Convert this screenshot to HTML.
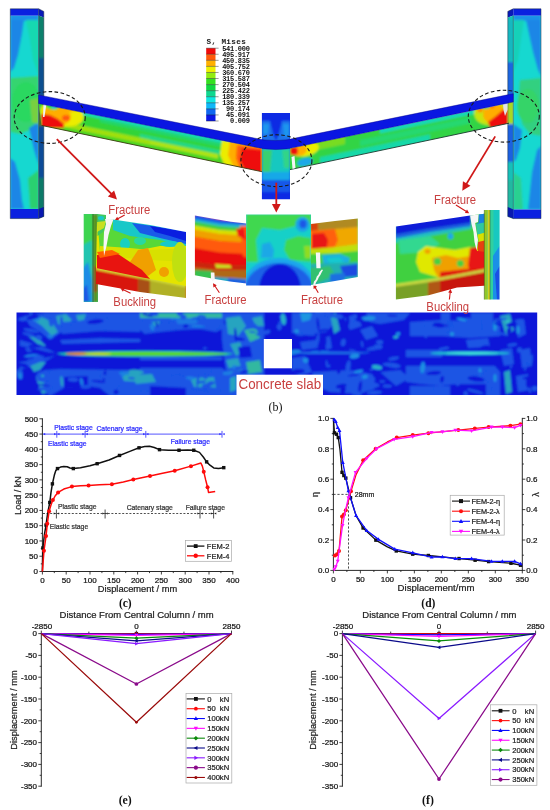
<!DOCTYPE html>
<html><head><meta charset="utf-8"><title>FEM results</title>
<style>html,body{margin:0;padding:0;background:#fff;width:550px;height:810px;overflow:hidden}svg{display:block}</style>
</head><body>
<svg width="550" height="810" viewBox="0 0 550 810"><defs><filter id="bl0_5" x="-20%" y="-20%" width="140%" height="140%"><feGaussianBlur stdDeviation="0.5"/></filter><filter id="bl0_8" x="-20%" y="-20%" width="140%" height="140%"><feGaussianBlur stdDeviation="0.8"/></filter><filter id="bl1_0" x="-20%" y="-20%" width="140%" height="140%"><feGaussianBlur stdDeviation="1.0"/></filter><filter id="bl1_5" x="-20%" y="-20%" width="140%" height="140%"><feGaussianBlur stdDeviation="1.5"/></filter><filter id="bl2_0" x="-20%" y="-20%" width="140%" height="140%"><feGaussianBlur stdDeviation="2.0"/></filter><filter id="bl3_0" x="-20%" y="-20%" width="140%" height="140%"><feGaussianBlur stdDeviation="3.0"/></filter><clipPath id="cp1"><polygon points="10.3,15.4 38.6,15.4 38.6,209 10.3,209"/></clipPath><clipPath id="cp2"><polygon points="38.6,15.6 43.8,17.5 43.8,216.5 38.6,218.6"/></clipPath><clipPath id="cp3"><polygon points="513.3,15.4 541,15.4 541,209.5 513.3,209.5"/></clipPath><clipPath id="cp4"><polygon points="507.8,17.5 513.3,15.6 513.3,218.6 507.8,216.5"/></clipPath><clipPath id="cp5"><polygon points="261.9,113 290,113 290,199.3 261.9,199.3"/></clipPath><clipPath id="cp6"><polygon points="38.6,103.52 262,148.2 262,171.71 41.5,125.4"/></clipPath><clipPath id="cp7"><polygon points="290,148.15 507.3,103.6 509,123.19 290,169.62"/></clipPath><clipPath id="cp8"><polygon points="83.7,214 98,214 98,302 83.7,302"/></clipPath><clipPath id="cp9"><polygon points="97,222 113,219.5 150,225 186,232 186,288 140,279 96,270"/></clipPath><clipPath id="cp10"><polygon points="97.5,214 106,215 106,224 103,232 97.5,236"/></clipPath><clipPath id="cp11"><polygon points="96,268 140,277 186,286 186,298 140,292 96,284"/></clipPath><clipPath id="cp12"><polygon points="194.9,215.6 212,218.5 231,221.8 246.5,223.5 246.5,283.5 230,281.5 212,278.5 194.9,275.3"/></clipPath><clipPath id="cp13"><polygon points="246.1,214.5 311,214.5 311,285.5 246.1,285.5"/></clipPath><clipPath id="cp14"><polygon points="310.9,224.1 335,221 357.8,218.6 357.8,277 335,281 311,285"/></clipPath><clipPath id="cp15"><polygon points="395.9,226.5 430,221.5 470.1,215.5 486.5,213.4 487.6,285.4 457,287.6 428.6,295.2 395.9,299.5"/></clipPath><clipPath id="cp16"><polygon points="478.8,214.5 486.5,213.4 486.5,252 477,251 478.5,240 477,232 476,224 478.6,222.5"/></clipPath><clipPath id="cp17"><polygon points="484.3,210 499.6,210 499.6,299.5 484.3,299.5"/></clipPath><clipPath id="cp18"><polygon points="16.5,312.6 537.2,312.6 537.2,395 16.5,395"/></clipPath></defs>
<g clip-path="url(#cp1)"><g filter="url(#bl1_0)"><rect x="6.3" y="11.4" width="36.3" height="201.6" fill="#14d8d0"/><polygon points="10.3,15 38.6,15 38.6,21 10.3,21" fill="#1a90e8" /><polygon points="10.3,20 24,20 22,34 18,55 14,68 10.3,72" fill="#1a86e6" /><polygon points="26,20 38.6,20 38.6,75 33,60 30,40" fill="#18d8b0" /><polygon points="10.3,78 38.6,76 38.6,128 30,130 20,134 10.3,132" fill="#34d470" /><ellipse cx="26" cy="102" rx="14" ry="20" fill="#2cd860" /><polygon points="29,128 38.6,122 38.6,165 34,150" fill="#1a86e6" /><polygon points="30,100 38.6,98 38.6,124 32,122" fill="#78d040" /><polygon points="10.3,158 15,162 20,180 22,200 24,209 10.3,209" fill="#1a86e6" /><polygon points="28,178 38.6,170 38.6,209 30,209" fill="#2cd070" /></g></g>
<polygon points="10.3,8.8 38.6,8.8 38.6,15.6 10.3,15.6" fill="#0a20e0" />
<polygon points="38.6,8.8 43.8,11.4 43.8,17.5 38.6,15.6" fill="#0818b8" />
<g clip-path="url(#cp2)"><g filter="url(#bl1_0)"><rect x="34.6" y="11.6" width="13.2" height="211" fill="#0c806c"/><polygon points="38,58 45,58 45,96 38,96" fill="#0a5090" /><polygon points="38,96 45,96 45,126 38,126" fill="#4a7020" /><polygon points="38,126 45,126 45,178 38,178" fill="#0a4c98" /><polygon points="38,178 45,178 45,212 38,212" fill="#0c7a68" /></g></g>
<polygon points="10.3,209 38.6,209 38.6,218.6 10.3,218.6" fill="#0a20e0" />
<polygon points="38.6,209 43.8,207 43.8,216.5 38.6,218.6" fill="#0818b0" />
<g clip-path="url(#cp3)"><g filter="url(#bl1_0)"><rect x="509.3" y="11.4" width="35.7" height="202.1" fill="#14d8d0"/><polygon points="513.3,15 541,15 541,21 513.3,21" fill="#1a90e8" /><polygon points="526,20 541,20 541,76 538,70 533,52 529,34" fill="#1a86e6" /><polygon points="513.3,20 524,20 521,40 518,60 513.3,72" fill="#18d0b8" /><polygon points="520,80 541,78 541,136 530,134 522,124 518,100" fill="#30d080" /><ellipse cx="528" cy="106" rx="11" ry="17" fill="#34d468" /><polygon points="513.3,124 522,130 520,148 516,160 513.3,162" fill="#1a86e6" /><polygon points="541,146 537,150 532,172 528,209.5 541,209.5" fill="#1a86e6" /><polygon points="513.3,172 521,178 523,209.5 513.3,209.5" fill="#2cd090" /></g></g>
<polygon points="513.3,8.8 541,8.8 541,15.6 513.3,15.6" fill="#0a20e0" />
<polygon points="507.8,11.4 513.3,8.8 513.3,15.6 507.8,17.5" fill="#0818b8" />
<g clip-path="url(#cp4)"><g filter="url(#bl1_0)"><rect x="503.8" y="11.6" width="13.5" height="211" fill="#16c0b8"/><polygon points="506,20 514,20 514,60 506,60" fill="#18b8c0" /><polygon points="506,62 514,62 514,100 506,100" fill="#1a66e0" /><polygon points="506,100 514,100 514,124 506,124" fill="#a8d820" /><polygon points="506,124 514,124 514,162 506,162" fill="#1a60e0" /><polygon points="506,180 514,180 514,212 506,212" fill="#20b8a0" /></g></g>
<line x1="513.3" y1="15.6" x2="513.3" y2="218.6" stroke="#104040" stroke-width="0.5"/>
<polygon points="513.3,209.5 541,209.5 541,218.6 513.3,218.6" fill="#0a20e0" />
<polygon points="507.8,207 513.3,209.5 513.3,218.6 507.8,216.5" fill="#0818b0" />
<polygon points="10.3,8.8 38.6,8.8 43.8,11.4 43.8,216.5 38.6,218.6 10.3,218.6" fill="none" stroke="#1a2a40" stroke-width="0.5"/>
<line x1="38.6" y1="8.8" x2="38.6" y2="218.6" stroke="#1a2a40" stroke-width="0.45"/>
<polygon points="507.8,11.4 513.3,8.8 541,8.8 541,218.6 513.3,218.6 507.8,216.5" fill="none" stroke="#1a2a40" stroke-width="0.5"/>
<g clip-path="url(#cp5)"><g filter="url(#bl1_0)"><rect x="257.9" y="109" width="36.1" height="94.3" fill="#0a2ae4"/><polygon points="262,121 290,121 290,141 262,141" fill="#1a72ea" /><polygon points="270,121 282,121 279,134 276,141 273,134" fill="#0a2ae4" /><polygon points="263,124 269,124 268,134 263,134" fill="#1a96ee" /><polygon points="283,124 289,124 289,136 284,136" fill="#1a96ee" /><polygon points="262,148 290,148 290,174 262,174" fill="#18c8c0" /><polygon points="262,150 272,150 270,172 262,172" fill="#38d070" /><polygon points="282,150 290,150 290,168 284,168" fill="#30d488" /><polygon points="262,172 290,172 290,180 262,180" fill="#18a8e8" /><polygon points="262,180 290,180 290,192 262,192" fill="#1258e8" /></g></g>
<g clip-path="url(#cp6)"><g filter="url(#bl1_0)"><rect x="34.6" y="99.52" width="231.4" height="76.19" fill="#30d438"/><polygon points="60,105.65 262,145.85 262,151.26 60,110.59" fill="#18d8b8" /><polygon points="100,118.65 262,151.26 262,155.25 100,122.37" fill="#22d66a" /><polygon points="140,133.83 262,158.78 262,162.77 140,137.62" fill="#28d888" /><polygon points="45,118.03 150,139.68 150,145.05 45,123.15" fill="#a0e010" /><polygon points="150,140.13 218,154.16 218,158.77 150,144.6" fill="#b0e418" /><polygon points="45,123.15 262,168.41 262,174.06 45,128.27" fill="#4cd424" /><ellipse cx="62" cy="114" rx="22" ry="12" fill="#ecec00" transform="rotate(12 62 114)" /><ellipse cx="57" cy="115" rx="14" ry="10" fill="#ffad00" transform="rotate(12 57 115)" /><ellipse cx="48" cy="121" rx="7" ry="5" fill="#ee1010" transform="rotate(12 48 121)" /><polygon points="41,114 50,115 58,119 64,124 64,128 41,128" fill="#ee1010" /><ellipse cx="66" cy="118" rx="4" ry="3" fill="#ff5a08" /><ellipse cx="70" cy="108" rx="6" ry="3.5" fill="#ffad00" transform="rotate(12 70 108)" /><ellipse cx="52" cy="106" rx="7" ry="3.5" fill="#30e040" transform="rotate(12 52 106)" /><ellipse cx="54" cy="107" rx="2.5" ry="2" fill="#18c8d8" /><polygon points="222,140 262,146 262,175 226,168 220,155" fill="#ecec00" /><polygon points="230,141 262,146 262,175 234,168 228,155" fill="#ffad00" /><polygon points="237,145 262,148 262,175 240,169 236,158" fill="#ff5a08" /><polygon points="242,148 262,150 262,175 245,170 240,160" fill="#ee1010" /></g></g>
<polygon points="43.5,104 46.5,103.5 45.5,110 44.5,117 43,117" fill="#f2f2f2" />
<line x1="41.5" y1="125.4" x2="262" y2="171.71" stroke="#3a3a10" stroke-width="0.9"/>
<g clip-path="url(#cp7)"><g filter="url(#bl1_0)"><rect x="286" y="99.6" width="227" height="74.02" fill="#30d444"/><polygon points="380,127.62 480,107.19 480,112.83 380,133.45" fill="#18d8b8" /><polygon points="290,146 345,134.77 345,144.25 290,155.66" fill="#78dc20" /><polygon points="320,157.31 430,134.2 430,141.99 320,165.39" fill="#18d8a8" /><polygon points="360,140.09 470,117.31 470,123.38 360,146.39" fill="#26d870" /><ellipse cx="306" cy="149" rx="13" ry="7" fill="#ecec00" transform="rotate(-12 306 149)" /><ellipse cx="299" cy="150" rx="8" ry="6" fill="#ffad00" transform="rotate(-12 299 150)" /><ellipse cx="294" cy="151" rx="4" ry="4" fill="#ee1010" /><ellipse cx="305" cy="162" rx="8" ry="4" fill="#1ca8e8" transform="rotate(-12 305 162)" /><ellipse cx="490" cy="112" rx="16" ry="13" fill="#c8e410" transform="rotate(-12 490 112)" /><ellipse cx="494" cy="114" rx="11" ry="10" fill="#ffad00" transform="rotate(-12 494 114)" /><polygon points="488,122 496,116 503,110 508,108 508,126 490,128" fill="#ee1010" /><ellipse cx="486" cy="108" rx="3" ry="2.5" fill="#ffad00" /><ellipse cx="492" cy="106" rx="2.5" ry="2" fill="#ff5a08" /><ellipse cx="486" cy="106" rx="4" ry="3" fill="#30d060" /><ellipse cx="480" cy="110" rx="3" ry="2.5" fill="#ff9000" /></g></g>
<polygon points="503,104 507.5,103 507.5,110 505,116 503.5,110" fill="#e4e4e4" />
<line x1="290" y1="169.62" x2="509" y2="123.19" stroke="#1a3a30" stroke-width="0.9"/>
<polygon points="291.5,157 294.5,156 295.5,168 292.5,169" fill="#f4f4f4" />
<path d="M38.6,94.92 L252,137.6 Q276,143.9 300,137.1 L513.3,93.67 L513.3,101.97 L300,146.3 Q276,152.8 252,146.4 L38.6,103.62 Z" fill="#0a16e2" stroke="#0a0a80" stroke-width="0.4"/>
<rect x="206.2" y="48.2" width="9.3" height="6.12" fill="#f00a0a"/>
<rect x="206.2" y="54.27" width="9.3" height="6.12" fill="#ff5a0a"/>
<rect x="206.2" y="60.33" width="9.3" height="6.12" fill="#ffb000"/>
<rect x="206.2" y="66.4" width="9.3" height="6.12" fill="#eef000"/>
<rect x="206.2" y="72.47" width="9.3" height="6.12" fill="#92ec10"/>
<rect x="206.2" y="78.53" width="9.3" height="6.12" fill="#34e020"/>
<rect x="206.2" y="84.6" width="9.3" height="6.12" fill="#10d840"/>
<rect x="206.2" y="90.67" width="9.3" height="6.12" fill="#10d890"/>
<rect x="206.2" y="96.73" width="9.3" height="6.12" fill="#10e8e0"/>
<rect x="206.2" y="102.8" width="9.3" height="6.12" fill="#10b8f8"/>
<rect x="206.2" y="108.87" width="9.3" height="6.12" fill="#1068f0"/>
<rect x="206.2" y="114.93" width="9.3" height="6.12" fill="#0a18e8"/>
<line x1="206.2" y1="48.2" x2="218.6" y2="48.2" stroke="#222" stroke-width="0.45"/>
<line x1="206.2" y1="54.27" x2="218.6" y2="54.27" stroke="#222" stroke-width="0.45"/>
<line x1="206.2" y1="60.33" x2="218.6" y2="60.33" stroke="#222" stroke-width="0.45"/>
<line x1="206.2" y1="66.4" x2="218.6" y2="66.4" stroke="#222" stroke-width="0.45"/>
<line x1="206.2" y1="72.47" x2="218.6" y2="72.47" stroke="#222" stroke-width="0.45"/>
<line x1="206.2" y1="78.53" x2="218.6" y2="78.53" stroke="#222" stroke-width="0.45"/>
<line x1="206.2" y1="84.6" x2="218.6" y2="84.6" stroke="#222" stroke-width="0.45"/>
<line x1="206.2" y1="90.67" x2="218.6" y2="90.67" stroke="#222" stroke-width="0.45"/>
<line x1="206.2" y1="96.73" x2="218.6" y2="96.73" stroke="#222" stroke-width="0.45"/>
<line x1="206.2" y1="102.8" x2="218.6" y2="102.8" stroke="#222" stroke-width="0.45"/>
<line x1="206.2" y1="108.87" x2="218.6" y2="108.87" stroke="#222" stroke-width="0.45"/>
<line x1="206.2" y1="114.93" x2="218.6" y2="114.93" stroke="#222" stroke-width="0.45"/>
<line x1="206.2" y1="121" x2="218.6" y2="121" stroke="#222" stroke-width="0.45"/>
<text x="249.6" y="50.6" font-family="'Liberation Mono', 'DejaVu Sans Mono', monospace" font-size="7.0" fill="#111" text-anchor="end" font-weight="bold" letter-spacing="-0.28">541.000</text>
<text x="249.6" y="56.67" font-family="'Liberation Mono', 'DejaVu Sans Mono', monospace" font-size="7.0" fill="#111" text-anchor="end" font-weight="bold" letter-spacing="-0.28">495.917</text>
<text x="249.6" y="62.73" font-family="'Liberation Mono', 'DejaVu Sans Mono', monospace" font-size="7.0" fill="#111" text-anchor="end" font-weight="bold" letter-spacing="-0.28">450.835</text>
<text x="249.6" y="68.8" font-family="'Liberation Mono', 'DejaVu Sans Mono', monospace" font-size="7.0" fill="#111" text-anchor="end" font-weight="bold" letter-spacing="-0.28">405.752</text>
<text x="249.6" y="74.87" font-family="'Liberation Mono', 'DejaVu Sans Mono', monospace" font-size="7.0" fill="#111" text-anchor="end" font-weight="bold" letter-spacing="-0.28">360.670</text>
<text x="249.6" y="80.93" font-family="'Liberation Mono', 'DejaVu Sans Mono', monospace" font-size="7.0" fill="#111" text-anchor="end" font-weight="bold" letter-spacing="-0.28">315.587</text>
<text x="249.6" y="87" font-family="'Liberation Mono', 'DejaVu Sans Mono', monospace" font-size="7.0" fill="#111" text-anchor="end" font-weight="bold" letter-spacing="-0.28">270.504</text>
<text x="249.6" y="93.07" font-family="'Liberation Mono', 'DejaVu Sans Mono', monospace" font-size="7.0" fill="#111" text-anchor="end" font-weight="bold" letter-spacing="-0.28">225.422</text>
<text x="249.6" y="99.13" font-family="'Liberation Mono', 'DejaVu Sans Mono', monospace" font-size="7.0" fill="#111" text-anchor="end" font-weight="bold" letter-spacing="-0.28">180.339</text>
<text x="249.6" y="105.2" font-family="'Liberation Mono', 'DejaVu Sans Mono', monospace" font-size="7.0" fill="#111" text-anchor="end" font-weight="bold" letter-spacing="-0.28">135.257</text>
<text x="249.6" y="111.27" font-family="'Liberation Mono', 'DejaVu Sans Mono', monospace" font-size="7.0" fill="#111" text-anchor="end" font-weight="bold" letter-spacing="-0.28">90.174</text>
<text x="249.6" y="117.33" font-family="'Liberation Mono', 'DejaVu Sans Mono', monospace" font-size="7.0" fill="#111" text-anchor="end" font-weight="bold" letter-spacing="-0.28">45.091</text>
<text x="249.6" y="123.4" font-family="'Liberation Mono', 'DejaVu Sans Mono', monospace" font-size="7.0" fill="#111" text-anchor="end" font-weight="bold" letter-spacing="-0.28">0.009</text>
<text x="206.6" y="43.6" font-family="'Liberation Mono', 'DejaVu Sans Mono', monospace" font-size="7.7" fill="#1a1a1a" text-anchor="start" font-weight="bold" letter-spacing="0.32">S, Mises</text>
<ellipse cx="49.7" cy="117.5" rx="35.5" ry="25.9" fill="none" stroke="#1a1a1a" stroke-width="1.1" stroke-dasharray="3.6,2.4"/>
<ellipse cx="276.4" cy="160.7" rx="35.5" ry="25.9" fill="none" stroke="#1a1a1a" stroke-width="1.1" stroke-dasharray="3.6,2.4"/>
<ellipse cx="503.8" cy="116.2" rx="35.5" ry="25.9" fill="none" stroke="#1a1a1a" stroke-width="1.1" stroke-dasharray="3.6,2.4"/>
<line x1="56.8" y1="139.2" x2="111.7" y2="194.19" stroke="#d01818" stroke-width="1.8"/><polygon points="117,199.5 107.88,196.59 114.11,190.38" fill="#d01818"/>
<line x1="276.3" y1="182.7" x2="276.3" y2="205" stroke="#d01818" stroke-width="1.8"/><polygon points="276.3,212.5 271.9,204 280.7,204" fill="#d01818"/>
<line x1="495.2" y1="136.4" x2="466.18" y2="184.38" stroke="#d01818" stroke-width="1.8"/><polygon points="462.3,190.8 462.93,181.25 470.46,185.8" fill="#d01818"/>
<line x1="124.7" y1="215" x2="117.27" y2="218.98" stroke="#d01818" stroke-width="1.1"/><polygon points="114.8,220.3 117.21,216.74 119.09,220.27" fill="#d01818"/>
<line x1="130.6" y1="293.2" x2="122.91" y2="289.43" stroke="#d01818" stroke-width="1.1"/><polygon points="120.4,288.2 124.69,288.08 122.93,291.67" fill="#d01818"/>
<line x1="219.4" y1="292.7" x2="214.56" y2="285.52" stroke="#d01818" stroke-width="1.1"/><polygon points="213,283.2 216.78,285.23 213.46,287.47" fill="#d01818"/>
<line x1="318.3" y1="292.7" x2="314.85" y2="287" stroke="#d01818" stroke-width="1.1"/><polygon points="313.4,284.6 317.08,286.82 313.66,288.89" fill="#d01818"/>
<line x1="455.9" y1="205" x2="466.82" y2="211.73" stroke="#d01818" stroke-width="1.1"/><polygon points="469.2,213.2 464.92,212.91 467.01,209.5" fill="#d01818"/>
<line x1="449.4" y1="299.5" x2="450.28" y2="291.78" stroke="#d01818" stroke-width="1.1"/><polygon points="450.6,289 452.16,293 448.18,292.55" fill="#d01818"/>
<g clip-path="url(#cp8)"><g filter="url(#bl0_8)"><rect x="79.7" y="210" width="22.3" height="96" fill="#30cc70"/><polygon points="83,214 93,214 93,302 83,302" fill="#3cd450" /><polygon points="83,245 92,240 93,302 83,302" fill="#20c4b0" /><polygon points="83,268 88,262 92,280 92,302 83,302" fill="#1a8ce6" /><polygon points="83,288 87,285 89,302 83,302" fill="#1a56e6" /><polygon points="93,214 98,214 98,302 93,302" fill="#5a9222" /><polygon points="93,266 98,266 98,292 93,292" fill="#8a5a18" /></g></g>
<line x1="93" y1="214" x2="93" y2="302" stroke="#2a4010" stroke-width="0.6"/>
<g clip-path="url(#cp9)"><g filter="url(#bl0_9)"><rect x="92" y="215.5" width="98" height="76.5" fill="#e4e400"/><polygon points="97,215 186,226 186,246 160,246 140,250 120,252 100,252" fill="#58d838" /><polygon points="113,219 186,230 186,246 160,240 130,236 113,230" fill="#18c8c8" /><polygon points="132,223 186,231 186,244 160,238 140,233" fill="#1a5ae8" /><polygon points="150,226 186,232 186,241 170,236 155,232" fill="#0a1ee0" /><ellipse cx="125" cy="244" rx="5" ry="6" fill="#18d0c0" /><ellipse cx="140" cy="241" rx="6" ry="4" fill="#28d8a0" /><ellipse cx="170" cy="244" rx="10" ry="3" fill="#18c8c8" /><polygon points="100,246 130,248 150,250 186,248 186,262 150,260 100,256" fill="#d8e000" /><polygon points="138,250 148,248 152,258 156,270 148,276 136,272 130,262" fill="#f0a000" /><ellipse cx="164" cy="272" rx="5" ry="5" fill="#f0a000" /><polygon points="97,255 118,254 130,262 142,270 150,279 120,276 97,271" fill="#e81410" /><polygon points="97,252 112,250 120,254 100,258" fill="#ff6000" /><ellipse cx="180" cy="262" rx="8" ry="20" fill="#c0e010" /></g></g>
<g clip-path="url(#cp10)"><g filter="url(#bl0_6)"><rect x="93.5" y="210" width="16.5" height="30" fill="#40c860"/><polygon points="97,222 106,221 104,228 97,232" fill="#c8e020" /><ellipse cx="101" cy="218" rx="3" ry="2" fill="#18c8c8" /></g></g>
<polygon points="105,219 113.5,219.2 111,226 108.5,235 106.5,246 104,256 103.5,246 104,232 106,224" fill="#f6f6f6" />
<g clip-path="url(#cp11)"><g filter="url(#bl0_8)"><rect x="92" y="264" width="98" height="38" fill="#d81810"/><polygon points="138,270 150,270 152,302 138,302" fill="#a85018" /><polygon points="150,270 186,280 186,302 150,302" fill="#b0b028" /><polygon points="96,266 186,284 186,287.5 96,270" fill="#d0d830" /></g></g>
<g clip-path="url(#cp12)"><g filter="url(#bl0_8)"><rect x="190.9" y="211.6" width="59.6" height="75.9" fill="#e81010"/><polygon points="194,214 220,219.5 247,222 247,227 220,225.5 194,221" fill="#1a5ae6" /><polygon points="194,219 220,223.5 247,225 247,228.5 220,226.75 194,222" fill="#20b8d0" /><polygon points="194,221.5 220,226.25 247,228 247,232 220,230.5 194,226" fill="#40d040" /><polygon points="194,225.5 220,230 247,231.5 247,236 220,234.5 194,230" fill="#d8e000" /><polygon points="194,229.5 220,234 247,235.5 247,243 220,241.5 194,237" fill="#f0a000" /><polygon points="194,236.5 220,241 247,242.5 247,254 220,252.5 194,248" fill="#ff5a08" /><polygon points="240,226 247,226 247,258 243,256" fill="#ff5a08" /><polygon points="236,229 244,228 246,240 238,236" fill="#ee1818" /><polygon points="194,262 220,265 247,265 247,270 220,269.5 194,266" fill="#c82810" /><polygon points="215,264 230,265 232,268 216,268" fill="#c8e020" /><polygon points="194,267 220,270 247,270 247,290 220,288.5 194,284" fill="#b06818" /><polygon points="194,270 212,271 212,290 194,290" fill="#38c050" /><polygon points="214,277 247,279 247,290 214,290" fill="#20a8c8" /><polygon points="228,278 247,280 247,290 228,290" fill="#1a60e0" /></g></g>
<polygon points="210.8,272.5 214.4,272.5 214.8,279.5 212.5,281 211,279" fill="#f6f6f6" />
<g clip-path="url(#cp13)"><g filter="url(#bl0_8)"><rect x="242.1" y="210.5" width="72.9" height="79" fill="#18d0c8"/><polygon points="246,214 311,214 311,224 296,226 280,230 262,228 256,240 258,262 246,262" fill="#40d850" /><polygon points="286,240 298,236 311,238 311,262 290,260 284,250" fill="#40d850" /><polygon points="304,246 311,246 311,258 305,258" fill="#90dc20" /><ellipse cx="302.5" cy="224.5" rx="7" ry="7.5" fill="#1aa0e8" /><ellipse cx="303" cy="224" rx="3.6" ry="4.2" fill="#1a58e6" /><polygon points="262,244 270,242 274,250 273,258 261,258" fill="#1aa8e6" /><ellipse cx="279" cy="291" rx="38" ry="33" fill="#1aa6ec" /><ellipse cx="279" cy="292" rx="35" ry="29" fill="#1a60e6" /><ellipse cx="280" cy="290" rx="21" ry="26" fill="#0a14d8" /></g></g>
<g clip-path="url(#cp14)"><g filter="url(#bl0_8)"><rect x="306.9" y="214.6" width="54.9" height="74.4" fill="#40d040"/><polygon points="310,222 358,217 358,229 310,233" fill="#b08a20" /><polygon points="310,222 318,222 318,233 310,233" fill="#d84010" /><polygon points="310,231 358,227 358,246 336,249 310,251" fill="#f0a800" /><polygon points="311,231 335,229 338,240 334,249 311,251" fill="#ff6008" /><polygon points="312,234 324,233 328,240 326,252 312,253" fill="#e81414" /><polygon points="310,249 336,247 358,244 358,251 336,253 310,254" fill="#c0e010" /><polygon points="322,255 340,254 350,258 348,266 324,267" fill="#1ab0e0" /><polygon points="326,258 340,257 344,263 330,264" fill="#18c8d0" /><polygon points="310,264 358,262 358,290 310,290" fill="#20b0b0" /><polygon points="310,268 330,266 335,275 320,282 310,285" fill="#30c070" /><polygon points="340,266 358,264 358,276 344,277" fill="#1a48e0" /><polygon points="330,274 345,273 345,282 330,283" fill="#1a70e0" /></g></g>
<polygon points="315.8,252.4 320.2,252.4 320.6,268.2 316.4,268.2" fill="#f6f6f6" />
<polygon points="321.8,269.4 319.5,272 318.5,274.5 316.8,276.5 315.8,279.5 314,281.5 313,285.7 314.8,285.7 316,282.5 317.6,280 318.8,277.3 320.4,275 321.6,272.4 323,270" fill="#f6f6f6" />
<g clip-path="url(#cp15)"><g filter="url(#bl0_8)"><rect x="391.9" y="209.4" width="99.7" height="94.1" fill="#40d040"/><polygon points="395,222 430,217 471,211 471,223 430,229 395,235" fill="#0a1ed8" /><polygon points="395,234.5 430,228.5 471,222.5 471,226.5 430,232.5 395,239" fill="#1a60e0" /><polygon points="395,238.5 430,232 471,226 471,229 430,236 395,243" fill="#20c0c0" /><polygon points="398,240 430,236 440,244 425,252 400,254" fill="#30d890" /><ellipse cx="450.5" cy="236.3" rx="2.8" ry="3.2" fill="#1aa8e8" /><polygon points="418,252 426,246 440,248 455,250 470,247 478,252 477,270 460,277 440,278 420,272 416,262" fill="#e0e800" /><polygon points="432,258 446,255 458,258 470,256 479,262 479,281 440,281 434,270" fill="#f0a000" /><ellipse cx="437.4" cy="261.4" rx="3.8" ry="3.6" fill="#48d040" /><ellipse cx="460.3" cy="263.5" rx="3.6" ry="3.4" fill="#48d040" /><ellipse cx="427.5" cy="251.5" rx="3" ry="2.4" fill="#f0a000" /><polygon points="470,248 486,246 486,280 474,280 468,266" fill="#e81414" /><polygon points="440,272 476,268 486,270 486,281 440,281" fill="#e01810" /><polygon points="395,285.4 440,279 487.6,270 487.6,300 395,300" fill="#78a028" /><polygon points="428,280.5 487.6,270 487.6,300 428,300" fill="#b05818" /><polygon points="440,278.5 487.6,270 487.6,300 440,300" fill="#c81410" /><polygon points="395,284 440,277.5 487.6,268.5 487.6,271.5 440,280.5 395,287" fill="#c8d840" /></g></g>
<polygon points="470.1,215.5 478.8,214.5 478,222 475.2,223 476.6,232 478,240 476.6,250.5 474.5,242 473.5,232 471.5,224" fill="#f6f6f6" />
<g clip-path="url(#cp16)"><g filter="url(#bl0_6)"><rect x="472" y="209.4" width="18.5" height="46.6" fill="#30c8a0"/><polygon points="476,213 487,212 487,222 476,224" fill="#1a80e0" /><polygon points="476,235 487,232 487,252 476,252" fill="#d8e000" /><polygon points="478,242 487,240 487,252 478,252" fill="#e84010" /></g></g>
<g clip-path="url(#cp17)"><g filter="url(#bl0_6)"><rect x="480.3" y="206" width="23.3" height="97.5" fill="#18c8c0"/><polygon points="484,210 487.5,210 487.5,300 484,300" fill="#90c828" /><polygon points="487.5,210 490,210 490,300 487.5,300" fill="#d0d020" /><polygon points="490,210 493.5,210 493.5,300 490,300" fill="#30d0a0" /><polygon points="493,256 499.6,246 499.6,300 493,300" fill="#1a90e6" /><polygon points="495,274 499.6,266 499.6,300 497,300" fill="#1a50e4" /></g></g>
<line x1="490" y1="210" x2="490" y2="299.5" stroke="#305020" stroke-width="0.5"/>
<line x1="484.3" y1="210" x2="484.3" y2="299.5" stroke="#305020" stroke-width="0.5"/>
<g clip-path="url(#cp18)"><g filter="url(#bl1_0)"><rect x="12.5" y="308.6" width="528.7" height="90.4" fill="#0a14d8"/><polygon points="24,316 45,313 80,313 140,313 140,322 100,324 76,326 60,333 50,340 40,332 30,326" fill="#1a54e4" /><polygon points="30,318 40,316 52,322 58,332 52,336 42,326" fill="#28a4c0" /><polygon points="56,316 66,314 72,320 64,326 58,324" fill="#28a4c0" /><polygon points="76,315 86,314 84,320 78,321" fill="#28a4c0" /><polygon points="60,322 140,320 140,332 100,331 62,334" fill="#1a54e4" /><polygon points="60,340 100,338 140,339 140,342 100,343 62,344" fill="#1a54e4" /><polygon points="20,340 34,344 50,350 56,353 48,352 32,348 20,346" fill="#1a54e4" /><polygon points="20,362 34,360 50,357 56,355 48,360 32,366 20,370" fill="#1a54e4" /><polygon points="28,336 38,338 46,346 40,346" fill="#28a4c0" /><polygon points="30,366 40,362 46,362 40,370 34,372" fill="#28a4c0" /><polygon points="36,378 44,372 52,376 50,392 42,394" fill="#28a4c0" /><polygon points="44,370 60,369 140,370 140,396 110,396 100,388 88,386 64,388 50,396 44,390" fill="#1a54e4" /><polygon points="120,372 140,371 140,382 124,381" fill="#28a4c0" /><polygon points="64,377 88,376 88,386 64,388" fill="#0a14d8" /><polygon points="140,313 236,313 236,318 140,319" fill="#30b8a0" /><polygon points="140,318 222,318 228,326 216,332 200,329 180,330 160,332 145,334 140,330" fill="#1a54e4" /><polygon points="170,318 200,318 196,324 176,324" fill="#1a78e2" /><polygon points="140,357 222,357 222,360 140,360" fill="#1a54e4" /><polygon points="150,322 160,321 158,326 152,326" fill="#28a4c0" /><polygon points="150,338 160,333 168,339 176,332 186,338 196,333 206,338 212,334 218,342 218,349 150,348" fill="#0a14d8" /><polygon points="140,368 222,368 230,374 236,396 140,396" fill="#1a54e4" /><polygon points="132,375 152,374 156,382 136,384" fill="#28a4c0" /><polygon points="190,378 214,377 216,388 194,387" fill="#28a4c0" /><polygon points="150,386 186,388 186,396 150,396" fill="#0a14d8" /><polygon points="222,313 264,313 264,396 230,396 226,372 222,340" fill="#1a54e4" /><polygon points="226,318 240,316 246,326 238,336 228,334" fill="#28a4c0" /><polygon points="244,330 256,328 260,338 250,342" fill="#30b8a0" /><polygon points="230,344 240,342 244,352 236,356" fill="#28a4c0" /><polygon points="238,347 250,346 252,357 240,358" fill="#0a14d8" /><polygon points="226,360 238,358 242,370 230,372" fill="#28a4c0" /><polygon points="246,362 260,360 262,372 248,374" fill="#30b8a0" /><polygon points="230,378 236,376 236,390 230,392" fill="#28a4c0" /><polygon points="252,318 262,316 264,326 256,326" fill="#28a4c0" /><polygon points="292,313 330,313 336,322 326,332 300,336 292,334" fill="#1a54e4" /><polygon points="300,313 312,313 310,320 302,322" fill="#1a96e0" /><polygon points="330,314 336,313 340,330 334,334" fill="#28a4c0" /><polygon points="344,318 356,314 362,326 350,330" fill="#1a54e4" /><polygon points="366,313 410,313 404,320 380,324 370,322" fill="#1a54e4" /><polygon points="292,358 305,356 312,372 300,376 292,372" fill="#1a54e4" /><polygon points="312,372 350,370 372,374 380,386 360,394 330,392 316,386" fill="#1a54e4" /><polygon points="380,372 400,370 410,378 396,386" fill="#1a54e4" /><polygon points="296,382 310,380 312,396 296,396" fill="#1a54e4" /><polygon points="324,338 330,336 332,348 326,350" fill="#1a54e4" /><polygon points="360,330 372,326 378,336 366,340" fill="#1a54e4" /><polygon points="300,342 316,340 318,348 302,350" fill="#1a54e4" /><ellipse cx="320" cy="352" rx="10" ry="1.5" fill="#1a7ae4" /><polygon points="410,322 440,320 470,321 500,322 500,336 470,338 440,336 410,336" fill="#1a54e4" /><polygon points="441,313 450,313 450,322 441,322" fill="#1a54e4" /><polygon points="471,313 493,313 493,322 471,322" fill="#1a54e4" /><polygon points="466,340 488,338 490,347 468,348" fill="#1a54e4" /><polygon points="406,350 442,350 442,357 406,357" fill="#1a54e4" /><polygon points="406,366 450,366 495,366 500,372 500,386 483,384 457,384 440,386 420,384 406,382" fill="#1a54e4" /><polygon points="410,386 450,386 450,396 410,396" fill="#1a54e4" /><polygon points="486,384 500,384 500,396 486,396" fill="#1a54e4" /><polygon points="500,316 510,314 514,330 506,336" fill="#28a4c0" /><polygon points="515,320 524,318 526,334 518,338" fill="#1a54e4" /><polygon points="500,350 512,348 514,364 504,366" fill="#1a54e4" /><polygon points="520,350 530,348 532,366 522,368" fill="#1a54e4" /><polygon points="504,372 510,370 512,392 506,394" fill="#28a4c0" /><polygon points="516,376 528,374 530,390 518,392" fill="#1a54e4" /><ellipse cx="495" cy="326" rx="1.8" ry="5" fill="#1a96e0" /><ellipse cx="508" cy="324" rx="2" ry="4" fill="#30c8c8" /><ellipse cx="518" cy="330" rx="1.6" ry="4" fill="#1a96e0" /><ellipse cx="452" cy="334" rx="2" ry="2" fill="#1a96e0" /><ellipse cx="480" cy="372" rx="1.5" ry="4" fill="#1a96e0" /><ellipse cx="495" cy="378" rx="1.5" ry="4" fill="#1a96e0" /><ellipse cx="185.75" cy="326.07" rx="2.51" ry="1.76" fill="#0a14d8" transform="rotate(-13.260032256758796 185.75 326.07)" /><ellipse cx="280.85" cy="317" rx="2.49" ry="0.96" fill="#1a54e4" transform="rotate(9.80556374016114 280.85 317)" /><ellipse cx="343.01" cy="389.82" rx="2.56" ry="3.82" fill="#0a14d8" transform="rotate(10.754053771460384 343.01 389.82)" /><ellipse cx="168.02" cy="325.54" rx="2.27" ry="3.33" fill="#1a54e4" transform="rotate(2.448004909873987 168.02 325.54)" /><ellipse cx="348.96" cy="343.79" rx="0.91" ry="1.95" fill="#0a14d8" transform="rotate(5.411999195453578 348.96 343.79)" /><ellipse cx="239.49" cy="339.13" rx="5.17" ry="1.34" fill="#0a14d8" transform="rotate(5.96983301188714 239.49 339.13)" /><ellipse cx="395.85" cy="337.04" rx="2.83" ry="1.55" fill="#28b0c8" transform="rotate(-10.440463960184857 395.85 337.04)" /><ellipse cx="271.28" cy="317.14" rx="7.35" ry="1.83" fill="#0a14d8" transform="rotate(-5.587574614557097 271.28 317.14)" /><ellipse cx="378.16" cy="361.55" rx="5.19" ry="2.31" fill="#0a14d8" transform="rotate(-0.7770498774106667 378.16 361.55)" /><ellipse cx="362.03" cy="318.85" rx="6.53" ry="2.59" fill="#0a14d8" transform="rotate(-6.462134037175524 362.03 318.85)" /><ellipse cx="29.69" cy="350.94" rx="2.82" ry="0.91" fill="#1a54e4" transform="rotate(-11.119793339439473 29.69 350.94)" /><ellipse cx="469.4" cy="320.45" rx="5.85" ry="2.39" fill="#1a54e4" transform="rotate(10.919534090955455 469.4 320.45)" /><ellipse cx="203.84" cy="384.74" rx="1.12" ry="2.45" fill="#1a80e2" transform="rotate(-7.999917489574166 203.84 384.74)" /><ellipse cx="154.1" cy="314.33" rx="4.58" ry="1.82" fill="#1a54e4" transform="rotate(5.714809714079337 154.1 314.33)" /><ellipse cx="368.27" cy="318.32" rx="7.46" ry="2.37" fill="#1a90e2" transform="rotate(-3.2286327932619407 368.27 318.32)" /><ellipse cx="224.67" cy="322.28" rx="0.92" ry="1.95" fill="#0a14d8" transform="rotate(-10.130904366837079 224.67 322.28)" /><ellipse cx="194.15" cy="318.21" rx="3.06" ry="0.98" fill="#1a54e4" transform="rotate(-14.23497340001563 194.15 318.21)" /><ellipse cx="81.63" cy="381.91" rx="1.67" ry="4.21" fill="#1a80e2" transform="rotate(-11.934371497554945 81.63 381.91)" /><ellipse cx="447.35" cy="326.92" rx="1.75" ry="6.93" fill="#1a54e4" transform="rotate(1.2951727764634313 447.35 326.92)" /><ellipse cx="32.01" cy="356.25" rx="8.04" ry="2.05" fill="#1a80e2" transform="rotate(-3.999006247164635 32.01 356.25)" /><ellipse cx="104.53" cy="375.76" rx="1.39" ry="5.96" fill="#0a14d8" transform="rotate(9.34533740320785 104.53 375.76)" /><ellipse cx="528.19" cy="382.21" rx="2.13" ry="6.18" fill="#0a14d8" transform="rotate(0.5291617273051656 528.19 382.21)" /><ellipse cx="202.18" cy="316.32" rx="3.96" ry="1.27" fill="#1a54e4" transform="rotate(13.695452290240134 202.18 316.32)" /><ellipse cx="529.8" cy="390.4" rx="1.21" ry="2.83" fill="#1a54e4" transform="rotate(-8.868799101713309 529.8 390.4)" /><ellipse cx="341.27" cy="386.02" rx="5.36" ry="1.98" fill="#0a14d8" transform="rotate(-12.456645406488597 341.27 386.02)" /><ellipse cx="360.18" cy="386.78" rx="1.66" ry="5.8" fill="#0a14d8" transform="rotate(8.67406293060829 360.18 386.78)" /><ellipse cx="190.24" cy="378.07" rx="4.77" ry="1.52" fill="#1a80e2" transform="rotate(6.743959969026456 190.24 378.07)" /><ellipse cx="106.06" cy="324.16" rx="2.25" ry="6.67" fill="#1a54e4" transform="rotate(9.795314355761612 106.06 324.16)" /><ellipse cx="525.8" cy="366.58" rx="1.04" ry="4.67" fill="#1a54e4" transform="rotate(14.12670531713293 525.8 366.58)" /><ellipse cx="354.53" cy="356.13" rx="5.04" ry="2.37" fill="#1a90e2" transform="rotate(-8.668729880155535 354.53 356.13)" /><ellipse cx="85.9" cy="386.8" rx="5.21" ry="1.85" fill="#1a54e4" transform="rotate(-2.381151878728044 85.9 386.8)" /><ellipse cx="27.69" cy="349.21" rx="2.24" ry="1.62" fill="#1a54e4" transform="rotate(-0.7952120261413107 27.69 349.21)" /><ellipse cx="393.65" cy="358.52" rx="5.63" ry="1.8" fill="#1a54e4" transform="rotate(-11.816717486852152 393.65 358.52)" /><ellipse cx="308.23" cy="333.88" rx="7.41" ry="1.71" fill="#1a54e4" transform="rotate(7.799794277700499 308.23 333.88)" /><ellipse cx="490.67" cy="349.46" rx="5.54" ry="1.72" fill="#0a14d8" transform="rotate(-1.4296262320527102 490.67 349.46)" /><ellipse cx="294.24" cy="352.24" rx="6.89" ry="2.38" fill="#1a90e2" transform="rotate(-7.212231176469279 294.24 352.24)" /><ellipse cx="453.12" cy="324.97" rx="0.93" ry="4.08" fill="#1a54e4" transform="rotate(-12.80637699081977 453.12 324.97)" /><ellipse cx="364.79" cy="376.71" rx="3.08" ry="2.09" fill="#1a90e2" transform="rotate(-10.710630062272884 364.79 376.71)" /><ellipse cx="475.31" cy="391.4" rx="8.67" ry="1.52" fill="#1a54e4" transform="rotate(14.696143642328597 475.31 391.4)" /><ellipse cx="449.21" cy="326.92" rx="1.41" ry="4.49" fill="#1a54e4" transform="rotate(-5.444232949869182 449.21 326.92)" /><ellipse cx="392.07" cy="315.56" rx="5.08" ry="0.83" fill="#0a14d8" transform="rotate(3.71781221675592 392.07 315.56)" /><ellipse cx="283.35" cy="319.14" rx="2.55" ry="6.01" fill="#28b0c8" transform="rotate(-7.033071829694407 283.35 319.14)" /><ellipse cx="38.51" cy="376.32" rx="2.91" ry="1.56" fill="#1a54e4" transform="rotate(9.56936939343845 38.51 376.32)" /><ellipse cx="151.96" cy="325.95" rx="2.06" ry="4.8" fill="#1a80e2" transform="rotate(-13.27420462677161 151.96 325.95)" /><ellipse cx="374.49" cy="348.03" rx="8.57" ry="1.94" fill="#1a54e4" transform="rotate(-12.487724212964459 374.49 348.03)" /><ellipse cx="461.53" cy="319.33" rx="5.18" ry="1.41" fill="#1a90e2" transform="rotate(12.800078522136815 461.53 319.33)" /><ellipse cx="156.75" cy="324.34" rx="1" ry="2.94" fill="#0a14d8" transform="rotate(-13.488608483714021 156.75 324.34)" /><ellipse cx="175.99" cy="374.76" rx="5.5" ry="1.12" fill="#1a54e4" transform="rotate(-14.455106781162549 175.99 374.76)" /><ellipse cx="147.73" cy="315.23" rx="5.86" ry="1.14" fill="#0a14d8" transform="rotate(13.039285193470615 147.73 315.23)" /><ellipse cx="73.05" cy="379.51" rx="5.47" ry="2.3" fill="#1a54e4" transform="rotate(0.20057856465497004 73.05 379.51)" /><ellipse cx="374.25" cy="392.6" rx="7.83" ry="2.07" fill="#1a54e4" transform="rotate(-2.859068738794761 374.25 392.6)" /><ellipse cx="198.03" cy="318.35" rx="2.5" ry="2.13" fill="#1a54e4" transform="rotate(-10.102604391708727 198.03 318.35)" /><ellipse cx="61.76" cy="381.3" rx="1.31" ry="5.36" fill="#28a4c0" transform="rotate(-6.208245222589937 61.76 381.3)" /><ellipse cx="256" cy="326.6" rx="3.84" ry="2.53" fill="#1a54e4" transform="rotate(1.4122012235672514 256 326.6)" /><ellipse cx="144.62" cy="391.25" rx="4.5" ry="0.8" fill="#1a54e4" transform="rotate(-0.7606911780844197 144.62 391.25)" /><ellipse cx="278.43" cy="330.08" rx="1.28" ry="1.63" fill="#0a14d8" transform="rotate(-3.0146648913322256 278.43 330.08)" /><ellipse cx="39.58" cy="315.8" rx="3.63" ry="1.85" fill="#1a54e4" transform="rotate(7.516218905579773 39.58 315.8)" /><ellipse cx="358.61" cy="371.28" rx="4.73" ry="1.39" fill="#1a90e2" transform="rotate(-10.51610552873241 358.61 371.28)" /><ellipse cx="393.11" cy="365.46" rx="7.85" ry="2.41" fill="#1a54e4" transform="rotate(7.015563704308853 393.11 365.46)" /><ellipse cx="438.73" cy="325.14" rx="5.53" ry="2.3" fill="#0a14d8" transform="rotate(9.792273645059407 438.73 325.14)" /><ellipse cx="371.74" cy="369.47" rx="2.22" ry="1.04" fill="#1a54e4" transform="rotate(-11.852505867939088 371.74 369.47)" /><ellipse cx="343.18" cy="364.1" rx="5.43" ry="0.81" fill="#0a14d8" transform="rotate(7.447961106711173 343.18 364.1)" /><ellipse cx="359.52" cy="319.28" rx="3.77" ry="0.93" fill="#0a14d8" transform="rotate(6.880051141181902 359.52 319.28)" /><ellipse cx="124.3" cy="373.19" rx="5.46" ry="1.49" fill="#1a80e2" transform="rotate(5.510896881070543 124.3 373.19)" /><ellipse cx="350.95" cy="320.2" rx="3.78" ry="2.14" fill="#1a54e4" transform="rotate(2.0328509360792495 350.95 320.2)" /><ellipse cx="24.46" cy="318.85" rx="6.7" ry="2.05" fill="#1a54e4" transform="rotate(-6.274305647118929 24.46 318.85)" /><ellipse cx="259.56" cy="323.48" rx="3.39" ry="2.56" fill="#28a4c0" transform="rotate(-14.474866325500116 259.56 323.48)" /><ellipse cx="519.48" cy="349.96" rx="2.5" ry="2.78" fill="#1a54e4" transform="rotate(2.4441710316322194 519.48 349.96)" /><ellipse cx="511.52" cy="324.61" rx="5.56" ry="2.4" fill="#0a14d8" transform="rotate(-8.058491908485903 511.52 324.61)" /><ellipse cx="30.86" cy="314.29" rx="1.34" ry="4.12" fill="#1a54e4" transform="rotate(-4.681195607161639 30.86 314.29)" /><ellipse cx="181.73" cy="381.22" rx="2.31" ry="5.8" fill="#1a54e4" transform="rotate(12.791965796591594 181.73 381.22)" /><ellipse cx="387.35" cy="386.13" rx="4.61" ry="1.51" fill="#1a54e4" transform="rotate(2.675299661547097 387.35 386.13)" /><ellipse cx="204.85" cy="348.24" rx="2.34" ry="0.98" fill="#1a54e4" transform="rotate(-6.431304297976908 204.85 348.24)" /><ellipse cx="502.64" cy="333.95" rx="5.58" ry="1.14" fill="#1a54e4" transform="rotate(13.68495794260821 502.64 333.95)" /><ellipse cx="476.05" cy="378.96" rx="8.39" ry="2.49" fill="#0a14d8" transform="rotate(6.587177458534441 476.05 378.96)" /><ellipse cx="43.63" cy="372.59" rx="7.27" ry="1.96" fill="#1a54e4" transform="rotate(-13.530692850372517 43.63 372.59)" /><ellipse cx="498.07" cy="324.18" rx="4.41" ry="1.34" fill="#0a14d8" transform="rotate(14.288885292295625 498.07 324.18)" /><ellipse cx="222.28" cy="327.39" rx="3.46" ry="2.43" fill="#1a54e4" transform="rotate(-8.399242433983222 222.28 327.39)" /><ellipse cx="487.44" cy="393.72" rx="1.15" ry="2.38" fill="#1a54e4" transform="rotate(-4.741342986552251 487.44 393.72)" /><ellipse cx="477.6" cy="373.97" rx="4.9" ry="1.74" fill="#1a54e4" transform="rotate(-4.853906984900458 477.6 373.97)" /><ellipse cx="50.15" cy="336.2" rx="2.88" ry="1.71" fill="#1a80e2" transform="rotate(10.885840471528233 50.15 336.2)" /><ellipse cx="457.62" cy="383.83" rx="2.23" ry="2.08" fill="#1a54e4" transform="rotate(-0.8019516687956632 457.62 383.83)" /><ellipse cx="322.16" cy="314.01" rx="8.49" ry="2.29" fill="#1a54e4" transform="rotate(14.167233656857256 322.16 314.01)" /><ellipse cx="146.71" cy="322.72" rx="5.66" ry="2.03" fill="#1a54e4" transform="rotate(6.652058668658963 146.71 322.72)" /><ellipse cx="353.33" cy="375.18" rx="5.86" ry="0.87" fill="#0a14d8" transform="rotate(-8.022695130992917 353.33 375.18)" /><ellipse cx="175.36" cy="324.24" rx="2.06" ry="5.16" fill="#1a54e4" transform="rotate(-12.88944274924339 175.36 324.24)" /><ellipse cx="329.35" cy="314.84" rx="5.22" ry="2.53" fill="#1a54e4" transform="rotate(11.513220871021808 329.35 314.84)" /><ellipse cx="264.21" cy="332.78" rx="8.72" ry="2.07" fill="#1a54e4" transform="rotate(-14.346378476742977 264.21 332.78)" /><ellipse cx="235.57" cy="334.58" rx="1.21" ry="6.78" fill="#0a14d8" transform="rotate(-4.858452889696011 235.57 334.58)" /><ellipse cx="235.85" cy="368.61" rx="7.58" ry="2.13" fill="#1a54e4" transform="rotate(-8.843442388841002 235.85 368.61)" /><ellipse cx="520.39" cy="338.94" rx="3.62" ry="1.2" fill="#0a14d8" transform="rotate(-6.152014484478222 520.39 338.94)" /><ellipse cx="234.02" cy="367.22" rx="1.51" ry="2.42" fill="#1a80e2" transform="rotate(14.223591147987651 234.02 367.22)" /><ellipse cx="91.51" cy="318.15" rx="4.75" ry="2.42" fill="#1a54e4" transform="rotate(6.981712977559617 91.51 318.15)" /><ellipse cx="534.72" cy="388.53" rx="3.3" ry="2.48" fill="#1a54e4" transform="rotate(-14.043189366498485 534.72 388.53)" /><ellipse cx="362.17" cy="344.29" rx="1.1" ry="3.46" fill="#1a54e4" transform="rotate(-6.605807152219944 362.17 344.29)" /><ellipse cx="200.06" cy="390.44" rx="8.75" ry="1.17" fill="#1a54e4" transform="rotate(9.647208521224382 200.06 390.44)" /><ellipse cx="443.8" cy="348.6" rx="5.31" ry="1.47" fill="#1a54e4" transform="rotate(-9.2092143766636 443.8 348.6)" /><ellipse cx="206.68" cy="385.76" rx="4.88" ry="2.26" fill="#1a54e4" transform="rotate(-13.780515482522325 206.68 385.76)" /><ellipse cx="36.05" cy="319.01" rx="3.8" ry="2.15" fill="#1a80e2" transform="rotate(-4.827914007833387 36.05 319.01)" /><ellipse cx="159.06" cy="390.62" rx="3.84" ry="2.09" fill="#0a14d8" transform="rotate(-6.731090181155681 159.06 390.62)" /><ellipse cx="19.95" cy="374.45" rx="2.5" ry="5.15" fill="#1a80e2" transform="rotate(-7.984012192354792 19.95 374.45)" /><ellipse cx="512.13" cy="344.92" rx="5.01" ry="1.69" fill="#1a54e4" transform="rotate(-9.5118230561826 512.13 344.92)" /><ellipse cx="433.73" cy="373.08" rx="7.41" ry="1.89" fill="#0a14d8" transform="rotate(-5.41353654993001 433.73 373.08)" /><ellipse cx="205.44" cy="376.58" rx="2.16" ry="2.7" fill="#1a54e4" transform="rotate(-13.058009225976617 205.44 376.58)" /><ellipse cx="35.54" cy="358.21" rx="8.86" ry="2.39" fill="#1a54e4" transform="rotate(-7.053260514601714 35.54 358.21)" /><ellipse cx="61.55" cy="321.71" rx="1.6" ry="5.57" fill="#1a54e4" transform="rotate(-2.4947810632905902 61.55 321.71)" /><ellipse cx="339.32" cy="367.93" rx="2" ry="6.34" fill="#0a14d8" transform="rotate(10.226135394109058 339.32 367.93)" /><ellipse cx="211.2" cy="373.05" rx="1.24" ry="2.99" fill="#1a54e4" transform="rotate(11.525034585796643 211.2 373.05)" /><ellipse cx="317.55" cy="340.11" rx="1.71" ry="7.16" fill="#1a54e4" transform="rotate(9.25328674179519 317.55 340.11)" /><ellipse cx="356.42" cy="393.28" rx="5.32" ry="2.27" fill="#1a54e4" transform="rotate(12.43126661491609 356.42 393.28)" /><ellipse cx="38.91" cy="337.49" rx="3.33" ry="2.55" fill="#1a54e4" transform="rotate(12.905212434034773 38.91 337.49)" /><ellipse cx="210.82" cy="383.29" rx="3.82" ry="2.2" fill="#1a54e4" transform="rotate(-11.826598129244756 210.82 383.29)" /><ellipse cx="326.8" cy="363.6" rx="1.05" ry="3.66" fill="#1a54e4" transform="rotate(-7.352589807308616 326.8 363.6)" /><ellipse cx="328.5" cy="366.13" rx="2.08" ry="1.39" fill="#1a54e4" transform="rotate(-9.445647011470692 328.5 366.13)" /><ellipse cx="50.77" cy="322.11" rx="1.95" ry="4.68" fill="#1a54e4" transform="rotate(-10.089320451519164 50.77 322.11)" /><ellipse cx="378.22" cy="346.78" rx="4.15" ry="2.52" fill="#1a54e4" transform="rotate(1.9956019260797362 378.22 346.78)" /><ellipse cx="465.68" cy="393.73" rx="2.11" ry="2.7" fill="#1a54e4" transform="rotate(-14.82370210420395 465.68 393.73)" /><ellipse cx="485.04" cy="347.9" rx="4.84" ry="2.39" fill="#0a14d8" transform="rotate(-10.123662621533477 485.04 347.9)" /><ellipse cx="25.68" cy="358.12" rx="8.37" ry="0.96" fill="#0a14d8" transform="rotate(-3.8746912619660208 25.68 358.12)" /><ellipse cx="279.31" cy="325.67" rx="2.47" ry="4.52" fill="#1a54e4" transform="rotate(-0.28471050704513345 279.31 325.67)" /><ellipse cx="434.89" cy="391.35" rx="2.89" ry="2.5" fill="#1a54e4" transform="rotate(-0.517905433209398 434.89 391.35)" /><ellipse cx="45.65" cy="388.09" rx="8.33" ry="1.92" fill="#1a54e4" transform="rotate(-10.191715514587369 45.65 388.09)" /><ellipse cx="425.06" cy="331.77" rx="2.29" ry="6.34" fill="#1a54e4" transform="rotate(-8.455893686030976 425.06 331.77)" /><ellipse cx="216.69" cy="323.84" rx="2.42" ry="5.66" fill="#1a54e4" transform="rotate(1.8702980523895434 216.69 323.84)" /><ellipse cx="410.36" cy="317.05" rx="2.82" ry="1.88" fill="#0a14d8" transform="rotate(3.8112725566520176 410.36 317.05)" /><ellipse cx="319.8" cy="348.06" rx="1.59" ry="4.1" fill="#0a14d8" transform="rotate(3.5667563943872445 319.8 348.06)" /><ellipse cx="271.56" cy="332.82" rx="1.62" ry="5.97" fill="#0a14d8" transform="rotate(-0.8034346102903012 271.56 332.82)" /><ellipse cx="73.47" cy="324.28" rx="2.64" ry="1.6" fill="#1a54e4" transform="rotate(-13.776996275636936 73.47 324.28)" /><ellipse cx="347.67" cy="320.58" rx="1.72" ry="5.95" fill="#0a14d8" transform="rotate(0.11772190664726878 347.67 320.58)" /><ellipse cx="213.73" cy="390.07" rx="8" ry="2.59" fill="#1a54e4" transform="rotate(9.449683452305504 213.73 390.07)" /><ellipse cx="118.34" cy="392.54" rx="2.45" ry="6.96" fill="#1a54e4" transform="rotate(8.651445669177015 118.34 392.54)" /><ellipse cx="500.04" cy="319.24" rx="7.29" ry="1.09" fill="#1a54e4" transform="rotate(-6.75022224223714 500.04 319.24)" /><ellipse cx="440.49" cy="325.49" rx="8.44" ry="1.17" fill="#0a14d8" transform="rotate(0.18020918311160194 440.49 325.49)" /><ellipse cx="183.28" cy="316.95" rx="3.13" ry="2.49" fill="#1a54e4" transform="rotate(11.862393105814046 183.28 316.95)" /><ellipse cx="105.41" cy="376.79" rx="5.72" ry="1.95" fill="#1a54e4" transform="rotate(11.18856298618881 105.41 376.79)" /><ellipse cx="305.58" cy="360.4" rx="2.73" ry="2.59" fill="#1a90e2" transform="rotate(-3.1723076690905287 305.58 360.4)" /><ellipse cx="531.08" cy="360.19" rx="1.6" ry="5.88" fill="#1a54e4" transform="rotate(7.307841619397681 531.08 360.19)" /><ellipse cx="43.01" cy="379.59" rx="6.47" ry="2.57" fill="#1a54e4" transform="rotate(4.910955927310059 43.01 379.59)" /><ellipse cx="179.95" cy="314.14" rx="3.05" ry="1.91" fill="#1a54e4" transform="rotate(0.3803395548684101 179.95 314.14)" /><ellipse cx="481.89" cy="324.56" rx="0.84" ry="5.26" fill="#1a54e4" transform="rotate(-4.351122758446909 481.89 324.56)" /><ellipse cx="323.15" cy="330.33" rx="5.32" ry="1.04" fill="#0a14d8" transform="rotate(-7.692352002678974 323.15 330.33)" /><ellipse cx="95.34" cy="321.66" rx="8.1" ry="2.21" fill="#0a14d8" transform="rotate(-7.072804801061288 95.34 321.66)" /><ellipse cx="23.95" cy="365.6" rx="4.45" ry="1.96" fill="#0a14d8" transform="rotate(13.114713620599172 23.95 365.6)" /><ellipse cx="397.96" cy="333.88" rx="2.31" ry="1.76" fill="#1a90e2" transform="rotate(-7.869935819681746 397.96 333.88)" /><ellipse cx="48.24" cy="376.31" rx="2.49" ry="4.69" fill="#1a54e4" transform="rotate(-9.014451983960402 48.24 376.31)" /><ellipse cx="332.99" cy="354.56" rx="7.69" ry="1.11" fill="#0a14d8" transform="rotate(-5.992015013255818 332.99 354.56)" /><ellipse cx="43.12" cy="385.15" rx="7.01" ry="0.81" fill="#0a14d8" transform="rotate(7.355623374639386 43.12 385.15)" /><ellipse cx="252.39" cy="332.08" rx="3.63" ry="0.87" fill="#1a54e4" transform="rotate(7.4896218460451465 252.39 332.08)" /><ellipse cx="378.07" cy="381.63" rx="3.86" ry="1.8" fill="#0a14d8" transform="rotate(8.653500508653043 378.07 381.63)" /><ellipse cx="289.04" cy="335.22" rx="8.76" ry="1.19" fill="#0a14d8" transform="rotate(-14.543168804846054 289.04 335.22)" /><ellipse cx="403.33" cy="389.58" rx="4.29" ry="2.38" fill="#0a14d8" transform="rotate(-7.824967418734225 403.33 389.58)" /><ellipse cx="376.89" cy="367.22" rx="5.29" ry="2.31" fill="#28b0c8" transform="rotate(10.72568268176543 376.89 367.22)" /><ellipse cx="244.48" cy="371.97" rx="4.15" ry="1.18" fill="#0a14d8" transform="rotate(-12.665929518966848 244.48 371.97)" /><ellipse cx="489.79" cy="325.57" rx="2.75" ry="2.47" fill="#1a54e4" transform="rotate(-10.74475235475455 489.79 325.57)" /><ellipse cx="32.88" cy="317.33" rx="6.44" ry="2.05" fill="#0a14d8" transform="rotate(-13.027041959055222 32.88 317.33)" /><ellipse cx="323.86" cy="343.07" rx="2.4" ry="6.19" fill="#0a14d8" transform="rotate(11.0337680777399 323.86 343.07)" /><ellipse cx="491.66" cy="389.55" rx="1" ry="2.75" fill="#1a54e4" transform="rotate(10.431517417232236 491.66 389.55)" /><ellipse cx="166.86" cy="321.99" rx="7.3" ry="1.17" fill="#1a54e4" transform="rotate(-2.287038431802479 166.86 321.99)" /><ellipse cx="28.84" cy="334.54" rx="7.01" ry="1.46" fill="#1a54e4" transform="rotate(13.919975147100171 28.84 334.54)" /><ellipse cx="338.27" cy="316.48" rx="5.06" ry="2.19" fill="#1a54e4" transform="rotate(6.139784093525353 338.27 316.48)" /><ellipse cx="296.62" cy="331.33" rx="2.28" ry="2.11" fill="#1a90e2" transform="rotate(-14.961028280059459 296.62 331.33)" /><ellipse cx="122.65" cy="374.97" rx="2.03" ry="1.68" fill="#1a80e2" transform="rotate(8.903156926931416 122.65 374.97)" /><ellipse cx="197.84" cy="380.55" rx="1.31" ry="6.89" fill="#1a54e4" transform="rotate(5.984374485506315 197.84 380.55)" /><ellipse cx="276.13" cy="322.79" rx="2.57" ry="2.22" fill="#0a14d8" transform="rotate(8.607993968849904 276.13 322.79)" /><ellipse cx="343.27" cy="342.45" rx="2.4" ry="3.81" fill="#1a54e4" transform="rotate(11.65346361231715 343.27 342.45)" /><ellipse cx="31.04" cy="330.49" rx="8.31" ry="1.7" fill="#1a54e4" transform="rotate(11.519358969646103 31.04 330.49)" /><ellipse cx="98.46" cy="381.45" rx="7.19" ry="1.11" fill="#0a14d8" transform="rotate(8.203055543574592 98.46 381.45)" /><ellipse cx="318.01" cy="324.08" rx="1.23" ry="6.56" fill="#0a14d8" transform="rotate(-5.954769159540167 318.01 324.08)" /><ellipse cx="382.24" cy="381.49" rx="3.09" ry="1.25" fill="#1a54e4" transform="rotate(0.6653627042395058 382.24 381.49)" /><ellipse cx="116.04" cy="392.01" rx="2.53" ry="2.17" fill="#0a14d8" transform="rotate(-3.4730131586730284 116.04 392.01)" /><ellipse cx="527.63" cy="377.59" rx="5.04" ry="1.15" fill="#0a14d8" transform="rotate(-11.793908563076467 527.63 377.59)" /><ellipse cx="35.58" cy="345.92" rx="6.85" ry="1.7" fill="#0a14d8" transform="rotate(-1.1016225765383343 35.58 345.92)" /><ellipse cx="227.64" cy="373.28" rx="5.01" ry="1.83" fill="#1a80e2" transform="rotate(-2.3653558985903373 227.64 373.28)" /><ellipse cx="136.4" cy="371.78" rx="7.42" ry="2.06" fill="#28a4c0" transform="rotate(5.387895669379446 136.4 371.78)" /><ellipse cx="350.32" cy="350.31" rx="6.4" ry="0.98" fill="#1a54e4" transform="rotate(8.471341520577358 350.32 350.31)" /><ellipse cx="387.41" cy="364.37" rx="4.97" ry="1.62" fill="#1a54e4" transform="rotate(-2.719659912976864 387.41 364.37)" /><ellipse cx="367.78" cy="388.42" rx="6.58" ry="2.2" fill="#1a54e4" transform="rotate(-0.3047950771021952 367.78 388.42)" /><ellipse cx="522.85" cy="317.05" rx="3.13" ry="2.21" fill="#0a14d8" transform="rotate(0.5765992436276726 522.85 317.05)" /><ellipse cx="298.26" cy="371.38" rx="6.47" ry="2.29" fill="#0a14d8" transform="rotate(-2.6895404438428745 298.26 371.38)" /><ellipse cx="509.05" cy="330.81" rx="2.17" ry="3.8" fill="#0a14d8" transform="rotate(14.534050363451755 509.05 330.81)" /><ellipse cx="202.14" cy="318.53" rx="4.8" ry="0.82" fill="#1a54e4" transform="rotate(-2.383588039450773 202.14 318.53)" /><ellipse cx="379.69" cy="342.17" rx="3.57" ry="2.13" fill="#1a54e4" transform="rotate(0.8122933592277235 379.69 342.17)" /><ellipse cx="131.4" cy="378.12" rx="3.48" ry="1.03" fill="#1a54e4" transform="rotate(9.287172361849304 131.4 378.12)" /><ellipse cx="346.57" cy="351.53" rx="3.58" ry="2.53" fill="#0a14d8" transform="rotate(4.163894540972798 346.57 351.53)" /><ellipse cx="442.11" cy="379.29" rx="1.79" ry="3.25" fill="#0a14d8" transform="rotate(10.012334317580226 442.11 379.29)" /><ellipse cx="201.76" cy="382.05" rx="4.63" ry="1.26" fill="#1a54e4" transform="rotate(-9.423308264858505 201.76 382.05)" /><ellipse cx="19.4" cy="371.74" rx="3.71" ry="1.34" fill="#1a54e4" transform="rotate(-2.145201797031479 19.4 371.74)" /><ellipse cx="348.12" cy="366.74" rx="2.34" ry="6.8" fill="#1a54e4" transform="rotate(9.836996323896042 348.12 366.74)" /><ellipse cx="487.21" cy="376.72" rx="1.94" ry="6.26" fill="#1a54e4" transform="rotate(-14.655628231968851 487.21 376.72)" /><ellipse cx="511.02" cy="366.48" rx="1.06" ry="2.17" fill="#1a54e4" transform="rotate(8.289167236974784 511.02 366.48)" /><ellipse cx="197.46" cy="326.21" rx="7.54" ry="1.1" fill="#1a80e2" transform="rotate(3.251014346742817 197.46 326.21)" /><ellipse cx="422.7" cy="367.48" rx="2.31" ry="6.01" fill="#1a90e2" transform="rotate(5.783781233377926 422.7 367.48)" /><ellipse cx="145" cy="353.8" rx="88" ry="3" fill="#18c0a8" /><ellipse cx="146" cy="353.8" rx="82" ry="2" fill="#58d828" /><ellipse cx="78" cy="353.7" rx="12" ry="1.3" fill="#f07800" /><ellipse cx="98" cy="353.8" rx="14" ry="1.2" fill="#c0d800" /><ellipse cx="330" cy="352.8" rx="40" ry="1.2" fill="#1a70e4" /><ellipse cx="470" cy="353.2" rx="40" ry="1.8" fill="#20c0d0" /><ellipse cx="472" cy="353" rx="26" ry="1.1" fill="#40e8d8" /></g></g>
<rect x="263.8" y="339" width="28.2" height="29.3" fill="#fff"/>
<rect x="236.5" y="374.7" width="86.5" height="21" fill="#fff"/>
<text x="0" y="0" font-family="'Liberation Sans', Arial, sans-serif" font-size="11.3" fill="#c84040" text-anchor="middle" transform="translate(129.3,213.5) scale(1,1.08)">Fracture</text>
<text x="0" y="0" font-family="'Liberation Sans', Arial, sans-serif" font-size="11.3" fill="#c84040" text-anchor="middle" transform="translate(134.7,306.3) scale(1,1.08)">Buckling</text>
<text x="0" y="0" font-family="'Liberation Sans', Arial, sans-serif" font-size="11.3" fill="#c84040" text-anchor="middle" transform="translate(225.5,303.5) scale(1,1.08)">Fracture</text>
<text x="0" y="0" font-family="'Liberation Sans', Arial, sans-serif" font-size="11.3" fill="#c84040" text-anchor="middle" transform="translate(322,303.5) scale(1,1.08)">Fracture</text>
<text x="0" y="0" font-family="'Liberation Sans', Arial, sans-serif" font-size="11.3" fill="#c84040" text-anchor="middle" transform="translate(455,203.5) scale(1,1.08)">Fracture</text>
<text x="0" y="0" font-family="'Liberation Sans', Arial, sans-serif" font-size="11.3" fill="#c84040" text-anchor="middle" transform="translate(447.7,311) scale(1,1.08)">Buckling</text>
<text x="0" y="0" font-family="'Liberation Sans', Arial, sans-serif" font-size="13.4" fill="#c84040" text-anchor="middle" transform="translate(279.8,389.4) scale(1,1.08)">Concrete slab</text>
<text x="275.6" y="411" font-family="'Liberation Serif', 'Times New Roman', serif" font-size="12" fill="#111" text-anchor="middle" >(b)</text>
<line x1="42.4" y1="418.3" x2="42.4" y2="571.5" stroke="#111" stroke-width="0.9"/>
<line x1="42" y1="571.5" x2="233.3" y2="571.5" stroke="#111" stroke-width="0.9"/>
<line x1="39.4" y1="571.5" x2="42.4" y2="571.5" stroke="#111" stroke-width="0.8"/>
<text x="38" y="574.3" font-family="'Liberation Sans', Arial, sans-serif" font-size="8" fill="#111" text-anchor="end" stroke="#111" stroke-width="0.22" >0</text>
<line x1="40.8" y1="563.87" x2="42.4" y2="563.87" stroke="#111" stroke-width="0.8"/>
<line x1="39.4" y1="556.23" x2="42.4" y2="556.23" stroke="#111" stroke-width="0.8"/>
<text x="38" y="559.03" font-family="'Liberation Sans', Arial, sans-serif" font-size="8" fill="#111" text-anchor="end" stroke="#111" stroke-width="0.22" >50</text>
<line x1="40.8" y1="548.6" x2="42.4" y2="548.6" stroke="#111" stroke-width="0.8"/>
<line x1="39.4" y1="540.96" x2="42.4" y2="540.96" stroke="#111" stroke-width="0.8"/>
<text x="38" y="543.76" font-family="'Liberation Sans', Arial, sans-serif" font-size="8" fill="#111" text-anchor="end" stroke="#111" stroke-width="0.22" >100</text>
<line x1="40.8" y1="533.33" x2="42.4" y2="533.33" stroke="#111" stroke-width="0.8"/>
<line x1="39.4" y1="525.69" x2="42.4" y2="525.69" stroke="#111" stroke-width="0.8"/>
<text x="38" y="528.49" font-family="'Liberation Sans', Arial, sans-serif" font-size="8" fill="#111" text-anchor="end" stroke="#111" stroke-width="0.22" >150</text>
<line x1="40.8" y1="518.05" x2="42.4" y2="518.05" stroke="#111" stroke-width="0.8"/>
<line x1="39.4" y1="510.42" x2="42.4" y2="510.42" stroke="#111" stroke-width="0.8"/>
<text x="38" y="513.22" font-family="'Liberation Sans', Arial, sans-serif" font-size="8" fill="#111" text-anchor="end" stroke="#111" stroke-width="0.22" >200</text>
<line x1="40.8" y1="502.78" x2="42.4" y2="502.78" stroke="#111" stroke-width="0.8"/>
<line x1="39.4" y1="495.15" x2="42.4" y2="495.15" stroke="#111" stroke-width="0.8"/>
<text x="38" y="497.95" font-family="'Liberation Sans', Arial, sans-serif" font-size="8" fill="#111" text-anchor="end" stroke="#111" stroke-width="0.22" >250</text>
<line x1="40.8" y1="487.51" x2="42.4" y2="487.51" stroke="#111" stroke-width="0.8"/>
<line x1="39.4" y1="479.88" x2="42.4" y2="479.88" stroke="#111" stroke-width="0.8"/>
<text x="38" y="482.68" font-family="'Liberation Sans', Arial, sans-serif" font-size="8" fill="#111" text-anchor="end" stroke="#111" stroke-width="0.22" >300</text>
<line x1="40.8" y1="472.25" x2="42.4" y2="472.25" stroke="#111" stroke-width="0.8"/>
<line x1="39.4" y1="464.61" x2="42.4" y2="464.61" stroke="#111" stroke-width="0.8"/>
<text x="38" y="467.41" font-family="'Liberation Sans', Arial, sans-serif" font-size="8" fill="#111" text-anchor="end" stroke="#111" stroke-width="0.22" >350</text>
<line x1="40.8" y1="456.98" x2="42.4" y2="456.98" stroke="#111" stroke-width="0.8"/>
<line x1="39.4" y1="449.34" x2="42.4" y2="449.34" stroke="#111" stroke-width="0.8"/>
<text x="38" y="452.14" font-family="'Liberation Sans', Arial, sans-serif" font-size="8" fill="#111" text-anchor="end" stroke="#111" stroke-width="0.22" >400</text>
<line x1="40.8" y1="441.7" x2="42.4" y2="441.7" stroke="#111" stroke-width="0.8"/>
<line x1="39.4" y1="434.07" x2="42.4" y2="434.07" stroke="#111" stroke-width="0.8"/>
<text x="38" y="436.87" font-family="'Liberation Sans', Arial, sans-serif" font-size="8" fill="#111" text-anchor="end" stroke="#111" stroke-width="0.22" >450</text>
<line x1="40.8" y1="426.44" x2="42.4" y2="426.44" stroke="#111" stroke-width="0.8"/>
<line x1="39.4" y1="418.8" x2="42.4" y2="418.8" stroke="#111" stroke-width="0.8"/>
<text x="38" y="421.6" font-family="'Liberation Sans', Arial, sans-serif" font-size="8" fill="#111" text-anchor="end" stroke="#111" stroke-width="0.22" >500</text>
<line x1="42.4" y1="571.5" x2="42.4" y2="574.5" stroke="#111" stroke-width="0.8"/>
<text x="42.4" y="583.4" font-family="'Liberation Sans', Arial, sans-serif" font-size="8" fill="#111" text-anchor="middle" stroke="#111" stroke-width="0.22" >0</text>
<line x1="54.3" y1="571.5" x2="54.3" y2="573.1" stroke="#111" stroke-width="0.8"/>
<line x1="66.2" y1="571.5" x2="66.2" y2="574.5" stroke="#111" stroke-width="0.8"/>
<text x="66.2" y="583.4" font-family="'Liberation Sans', Arial, sans-serif" font-size="8" fill="#111" text-anchor="middle" stroke="#111" stroke-width="0.22" >50</text>
<line x1="78.1" y1="571.5" x2="78.1" y2="573.1" stroke="#111" stroke-width="0.8"/>
<line x1="90" y1="571.5" x2="90" y2="574.5" stroke="#111" stroke-width="0.8"/>
<text x="90" y="583.4" font-family="'Liberation Sans', Arial, sans-serif" font-size="8" fill="#111" text-anchor="middle" stroke="#111" stroke-width="0.22" >100</text>
<line x1="101.9" y1="571.5" x2="101.9" y2="573.1" stroke="#111" stroke-width="0.8"/>
<line x1="113.8" y1="571.5" x2="113.8" y2="574.5" stroke="#111" stroke-width="0.8"/>
<text x="113.8" y="583.4" font-family="'Liberation Sans', Arial, sans-serif" font-size="8" fill="#111" text-anchor="middle" stroke="#111" stroke-width="0.22" >150</text>
<line x1="125.7" y1="571.5" x2="125.7" y2="573.1" stroke="#111" stroke-width="0.8"/>
<line x1="137.6" y1="571.5" x2="137.6" y2="574.5" stroke="#111" stroke-width="0.8"/>
<text x="137.6" y="583.4" font-family="'Liberation Sans', Arial, sans-serif" font-size="8" fill="#111" text-anchor="middle" stroke="#111" stroke-width="0.22" >200</text>
<line x1="149.5" y1="571.5" x2="149.5" y2="573.1" stroke="#111" stroke-width="0.8"/>
<line x1="161.4" y1="571.5" x2="161.4" y2="574.5" stroke="#111" stroke-width="0.8"/>
<text x="161.4" y="583.4" font-family="'Liberation Sans', Arial, sans-serif" font-size="8" fill="#111" text-anchor="middle" stroke="#111" stroke-width="0.22" >250</text>
<line x1="173.3" y1="571.5" x2="173.3" y2="573.1" stroke="#111" stroke-width="0.8"/>
<line x1="185.2" y1="571.5" x2="185.2" y2="574.5" stroke="#111" stroke-width="0.8"/>
<text x="185.2" y="583.4" font-family="'Liberation Sans', Arial, sans-serif" font-size="8" fill="#111" text-anchor="middle" stroke="#111" stroke-width="0.22" >300</text>
<line x1="197.1" y1="571.5" x2="197.1" y2="573.1" stroke="#111" stroke-width="0.8"/>
<line x1="209" y1="571.5" x2="209" y2="574.5" stroke="#111" stroke-width="0.8"/>
<text x="209" y="583.4" font-family="'Liberation Sans', Arial, sans-serif" font-size="8" fill="#111" text-anchor="middle" stroke="#111" stroke-width="0.22" >350</text>
<line x1="220.9" y1="571.5" x2="220.9" y2="573.1" stroke="#111" stroke-width="0.8"/>
<line x1="232.8" y1="571.5" x2="232.8" y2="574.5" stroke="#111" stroke-width="0.8"/>
<text x="232.8" y="583.4" font-family="'Liberation Sans', Arial, sans-serif" font-size="8" fill="#111" text-anchor="middle" stroke="#111" stroke-width="0.22" >400</text>
<text x="137.5" y="592" font-family="'Liberation Sans', Arial, sans-serif" font-size="9.3" fill="#222" text-anchor="middle" stroke="#222" stroke-width="0.22" >Displacement / mm</text>
<text x="0" y="0" font-family="'Liberation Sans', Arial, sans-serif" font-size="9.0" fill="#222" text-anchor="middle" stroke="#222" stroke-width="0.22" transform="translate(21.2,495.5) rotate(-90)">Load / kN</text>
<line x1="43" y1="434.1" x2="222" y2="434.1" stroke="#2a2aff" stroke-width="0.8"/>
<line x1="56.8" y1="430.90000000000003" x2="56.8" y2="437.70000000000005" stroke="#2a2aff" stroke-width="0.8"/>
<line x1="85.1" y1="430.90000000000003" x2="85.1" y2="437.70000000000005" stroke="#2a2aff" stroke-width="0.8"/>
<line x1="145.8" y1="430.90000000000003" x2="145.8" y2="437.70000000000005" stroke="#2a2aff" stroke-width="0.8"/>
<line x1="222" y1="430.90000000000003" x2="222" y2="437.70000000000005" stroke="#2a2aff" stroke-width="0.8"/>
<polygon points="43,434.1 45.2,433 45.2,435.2" fill="#2a2aff"/>
<polygon points="56.3,434.1 54.1,433 54.1,435.2" fill="#2a2aff"/>
<polygon points="57.3,434.1 59.5,433 59.5,435.2" fill="#2a2aff"/>
<polygon points="84.6,434.1 82.4,433 82.4,435.2" fill="#2a2aff"/>
<polygon points="85.6,434.1 87.8,433 87.8,435.2" fill="#2a2aff"/>
<polygon points="145.3,434.1 143.1,433 143.1,435.2" fill="#2a2aff"/>
<polygon points="146.3,434.1 148.5,433 148.5,435.2" fill="#2a2aff"/>
<polygon points="221.5,434.1 219.3,433 219.3,435.2" fill="#2a2aff"/>
<polygon points="222.5,434.1 224.7,433 224.7,435.2" fill="#2a2aff"/>
<text x="73.4" y="430.3" font-family="'Liberation Sans', Arial, sans-serif" font-size="6.8" fill="#2a2aff" text-anchor="middle" stroke="#2a2aff" stroke-width="0.22" >Plastic stage</text>
<text x="67.3" y="445.6" font-family="'Liberation Sans', Arial, sans-serif" font-size="6.8" fill="#2a2aff" text-anchor="middle" stroke="#2a2aff" stroke-width="0.22" >Elastic stage</text>
<text x="119.5" y="430.6" font-family="'Liberation Sans', Arial, sans-serif" font-size="6.8" fill="#2a2aff" text-anchor="middle" stroke="#2a2aff" stroke-width="0.22" >Catenary stage</text>
<text x="190.3" y="443.8" font-family="'Liberation Sans', Arial, sans-serif" font-size="6.8" fill="#2a2aff" text-anchor="middle" stroke="#2a2aff" stroke-width="0.22" >Failure stage</text>
<line x1="43" y1="513.5" x2="213.6" y2="513.5" stroke="#222" stroke-width="0.8" stroke-dasharray="2,1.6"/>
<line x1="56.4" y1="509.5" x2="56.4" y2="518.5" stroke="#222" stroke-width="0.8"/>
<line x1="105.1" y1="509.5" x2="105.1" y2="518.5" stroke="#222" stroke-width="0.8"/>
<line x1="200" y1="509.5" x2="200" y2="518.5" stroke="#222" stroke-width="0.8"/>
<line x1="213.6" y1="509.5" x2="213.6" y2="518.5" stroke="#222" stroke-width="0.8"/>
<polygon points="55.9,513.5 53.7,512.4 53.7,514.6" fill="#222"/>
<polygon points="56.9,513.5 59.1,512.4 59.1,514.6" fill="#222"/>
<polygon points="104.6,513.5 102.4,512.4 102.4,514.6" fill="#222"/>
<polygon points="105.6,513.5 107.8,512.4 107.8,514.6" fill="#222"/>
<polygon points="199.5,513.5 197.3,512.4 197.3,514.6" fill="#222"/>
<polygon points="200.5,513.5 202.7,512.4 202.7,514.6" fill="#222"/>
<polygon points="213.1,513.5 210.9,512.4 210.9,514.6" fill="#222"/>
<polygon points="214.1,513.5 216.3,512.4 216.3,514.6" fill="#222"/>
<text x="77.3" y="508.8" font-family="'Liberation Sans', Arial, sans-serif" font-size="6.8" fill="#333" text-anchor="middle" stroke="#333" stroke-width="0.22" >Plastic stage</text>
<text x="68.9" y="528.5" font-family="'Liberation Sans', Arial, sans-serif" font-size="6.8" fill="#333" text-anchor="middle" stroke="#333" stroke-width="0.22" >Elastic stage</text>
<text x="149.7" y="509.6" font-family="'Liberation Sans', Arial, sans-serif" font-size="6.8" fill="#333" text-anchor="middle" stroke="#333" stroke-width="0.22" >Catenary stage</text>
<text x="205.3" y="509.6" font-family="'Liberation Sans', Arial, sans-serif" font-size="6.8" fill="#333" text-anchor="middle" stroke="#333" stroke-width="0.22" >Failure stage</text>
<polyline points="42.4,571.5 42.88,547.98 44.3,535.46 46.02,525.08 47.64,513.47 49.78,502.48 50.97,492.71 52.4,483.85 54.3,475.3 55.73,470.72 57.49,468.58 60.49,467.05 63.82,466.44 67.15,466.75 70.01,467.97 73.34,468.58 80.48,467.66 90,465.83 97.14,463.69 109.04,460.03 119.51,455.45 130.46,451.17 139.03,447.81 144.74,446.59 149.5,446.29 154.26,447.51 159.5,449.65 168.54,450.26 179.01,450.26 187.58,449.95 193.77,450.26 199.48,452.39 203.29,456.98 206.62,461.86 209.95,465.22 213.76,467.97 218.52,468.58 223.76,467.66" fill="none" stroke="#111" stroke-width="1.5" stroke-linejoin="round" />
<rect x="41.18" y="546.28" width="3.4" height="3.4" fill="#111"/>
<rect x="44.32" y="523.38" width="3.4" height="3.4" fill="#111"/>
<rect x="48.08" y="500.78" width="3.4" height="3.4" fill="#111"/>
<rect x="50.7" y="482.15" width="3.4" height="3.4" fill="#111"/>
<rect x="55.79" y="466.88" width="3.4" height="3.4" fill="#111"/>
<rect x="71.64" y="466.88" width="3.4" height="3.4" fill="#111"/>
<rect x="95.44" y="461.99" width="3.4" height="3.4" fill="#111"/>
<rect x="117.81" y="453.75" width="3.4" height="3.4" fill="#111"/>
<rect x="137.33" y="446.11" width="3.4" height="3.4" fill="#111"/>
<rect x="157.8" y="447.95" width="3.4" height="3.4" fill="#111"/>
<rect x="177.31" y="448.56" width="3.4" height="3.4" fill="#111"/>
<rect x="192.07" y="448.56" width="3.4" height="3.4" fill="#111"/>
<rect x="204.92" y="460.16" width="3.4" height="3.4" fill="#111"/>
<rect x="222.06" y="465.96" width="3.4" height="3.4" fill="#111"/>
<polyline points="42.4,571.5 43.97,550.73 46.02,536.07 47.3,523.86 49.06,511.34 50.97,504.92 52.87,500.04 55.25,495.76 58.11,492.4 63.82,489.04 71.91,486.6 80.48,485.68 88.57,485.38 99.52,484.77 111.9,484.16 123.32,482.02 133.32,479.57 149.98,475.91 161.4,473.47 174.73,470.72 190.91,466.14 200.91,463.08 202.34,466.14 203.76,471.63 205.67,479.88 207.57,487.21 208.52,492.4 215.19,491.49" fill="none" stroke="#ff0a0a" stroke-width="1.5" stroke-linejoin="round" />
<circle cx="43.97" cy="550.73" r="2" fill="#ff0a0a"/>
<circle cx="46.02" cy="536.07" r="2" fill="#ff0a0a"/>
<circle cx="47.3" cy="523.86" r="2" fill="#ff0a0a"/>
<circle cx="49.06" cy="511.34" r="2" fill="#ff0a0a"/>
<circle cx="52.87" cy="500.04" r="2" fill="#ff0a0a"/>
<circle cx="58.11" cy="492.4" r="2" fill="#ff0a0a"/>
<circle cx="71.91" cy="486.6" r="2" fill="#ff0a0a"/>
<circle cx="88.57" cy="485.38" r="2" fill="#ff0a0a"/>
<circle cx="111.9" cy="484.16" r="2" fill="#ff0a0a"/>
<circle cx="133.32" cy="479.57" r="2" fill="#ff0a0a"/>
<circle cx="149.98" cy="475.91" r="2" fill="#ff0a0a"/>
<circle cx="174.73" cy="470.72" r="2" fill="#ff0a0a"/>
<circle cx="190.91" cy="466.14" r="2" fill="#ff0a0a"/>
<circle cx="203.76" cy="471.63" r="2" fill="#ff0a0a"/>
<circle cx="207.57" cy="487.21" r="2" fill="#ff0a0a"/>
<rect x="185.6" y="540.4" width="45.9" height="20.9" fill="#fff" stroke="#aaa" stroke-width="0.7"/>
<line x1="187" y1="546.1" x2="204.4" y2="546.1" stroke="#111" stroke-width="1.3"/>
<rect x="193.8" y="544.2" width="3.8" height="3.8" fill="#111"/>
<text x="206.8" y="548.8" font-family="'Liberation Sans', Arial, sans-serif" font-size="7.5" fill="#222" text-anchor="start" stroke="#222" stroke-width="0.22" >FEM-2</text>
<line x1="187" y1="555.8" x2="204.4" y2="555.8" stroke="#ff0a0a" stroke-width="1.3"/>
<circle cx="195.7" cy="555.8" r="2.2" fill="#ff0a0a"/>
<text x="206.8" y="558.5" font-family="'Liberation Sans', Arial, sans-serif" font-size="7.5" fill="#222" text-anchor="start" stroke="#222" stroke-width="0.22" >FEM-4</text>
<text x="125.3" y="607.4" font-family="'Liberation Serif', 'Times New Roman', serif" font-size="11.5" fill="#111" text-anchor="middle" font-weight="bold">(c)</text>
<line x1="333.4" y1="417.9" x2="333.4" y2="570.4" stroke="#111" stroke-width="0.9"/>
<line x1="522.3" y1="417.9" x2="522.3" y2="570.4" stroke="#111" stroke-width="0.9"/>
<line x1="333.0" y1="570.4" x2="522.6999999999999" y2="570.4" stroke="#111" stroke-width="0.9"/>
<line x1="330.4" y1="570.4" x2="333.4" y2="570.4" stroke="#111" stroke-width="0.8"/>
<line x1="522.3" y1="570.4" x2="525.3" y2="570.4" stroke="#111" stroke-width="0.8"/>
<text x="329.2" y="573.1" font-family="'Liberation Sans', Arial, sans-serif" font-size="8" fill="#111" text-anchor="end" stroke="#111" stroke-width="0.22" >0.0</text>
<text x="526.3" y="573.1" font-family="'Liberation Sans', Arial, sans-serif" font-size="8" fill="#111" text-anchor="start" stroke="#111" stroke-width="0.22" >0.0</text>
<line x1="331.8" y1="555.2" x2="333.4" y2="555.2" stroke="#111" stroke-width="0.8"/>
<line x1="522.3" y1="555.2" x2="523.9" y2="555.2" stroke="#111" stroke-width="0.8"/>
<line x1="330.4" y1="540" x2="333.4" y2="540" stroke="#111" stroke-width="0.8"/>
<line x1="522.3" y1="540" x2="525.3" y2="540" stroke="#111" stroke-width="0.8"/>
<text x="329.2" y="542.7" font-family="'Liberation Sans', Arial, sans-serif" font-size="8" fill="#111" text-anchor="end" stroke="#111" stroke-width="0.22" >0.2</text>
<text x="526.3" y="542.7" font-family="'Liberation Sans', Arial, sans-serif" font-size="8" fill="#111" text-anchor="start" stroke="#111" stroke-width="0.22" >0.2</text>
<line x1="331.8" y1="524.8" x2="333.4" y2="524.8" stroke="#111" stroke-width="0.8"/>
<line x1="522.3" y1="524.8" x2="523.9" y2="524.8" stroke="#111" stroke-width="0.8"/>
<line x1="330.4" y1="509.6" x2="333.4" y2="509.6" stroke="#111" stroke-width="0.8"/>
<line x1="522.3" y1="509.6" x2="525.3" y2="509.6" stroke="#111" stroke-width="0.8"/>
<text x="329.2" y="512.3" font-family="'Liberation Sans', Arial, sans-serif" font-size="8" fill="#111" text-anchor="end" stroke="#111" stroke-width="0.22" >0.4</text>
<text x="526.3" y="512.3" font-family="'Liberation Sans', Arial, sans-serif" font-size="8" fill="#111" text-anchor="start" stroke="#111" stroke-width="0.22" >0.4</text>
<line x1="331.8" y1="494.4" x2="333.4" y2="494.4" stroke="#111" stroke-width="0.8"/>
<line x1="522.3" y1="494.4" x2="523.9" y2="494.4" stroke="#111" stroke-width="0.8"/>
<line x1="330.4" y1="479.2" x2="333.4" y2="479.2" stroke="#111" stroke-width="0.8"/>
<line x1="522.3" y1="479.2" x2="525.3" y2="479.2" stroke="#111" stroke-width="0.8"/>
<text x="329.2" y="481.9" font-family="'Liberation Sans', Arial, sans-serif" font-size="8" fill="#111" text-anchor="end" stroke="#111" stroke-width="0.22" >0.6</text>
<text x="526.3" y="481.9" font-family="'Liberation Sans', Arial, sans-serif" font-size="8" fill="#111" text-anchor="start" stroke="#111" stroke-width="0.22" >0.6</text>
<line x1="331.8" y1="464" x2="333.4" y2="464" stroke="#111" stroke-width="0.8"/>
<line x1="522.3" y1="464" x2="523.9" y2="464" stroke="#111" stroke-width="0.8"/>
<line x1="330.4" y1="448.8" x2="333.4" y2="448.8" stroke="#111" stroke-width="0.8"/>
<line x1="522.3" y1="448.8" x2="525.3" y2="448.8" stroke="#111" stroke-width="0.8"/>
<text x="329.2" y="451.5" font-family="'Liberation Sans', Arial, sans-serif" font-size="8" fill="#111" text-anchor="end" stroke="#111" stroke-width="0.22" >0.8</text>
<text x="526.3" y="451.5" font-family="'Liberation Sans', Arial, sans-serif" font-size="8" fill="#111" text-anchor="start" stroke="#111" stroke-width="0.22" >0.8</text>
<line x1="331.8" y1="433.6" x2="333.4" y2="433.6" stroke="#111" stroke-width="0.8"/>
<line x1="522.3" y1="433.6" x2="523.9" y2="433.6" stroke="#111" stroke-width="0.8"/>
<line x1="330.4" y1="418.4" x2="333.4" y2="418.4" stroke="#111" stroke-width="0.8"/>
<line x1="522.3" y1="418.4" x2="525.3" y2="418.4" stroke="#111" stroke-width="0.8"/>
<text x="329.2" y="421.1" font-family="'Liberation Sans', Arial, sans-serif" font-size="8" fill="#111" text-anchor="end" stroke="#111" stroke-width="0.22" >1.0</text>
<text x="526.3" y="421.1" font-family="'Liberation Sans', Arial, sans-serif" font-size="8" fill="#111" text-anchor="start" stroke="#111" stroke-width="0.22" >1.0</text>
<line x1="333.4" y1="570.4" x2="333.4" y2="573.4" stroke="#111" stroke-width="0.8"/>
<text x="333.4" y="582.3" font-family="'Liberation Sans', Arial, sans-serif" font-size="8" fill="#111" text-anchor="middle" stroke="#111" stroke-width="0.22" >0</text>
<line x1="346.89" y1="570.4" x2="346.89" y2="572" stroke="#111" stroke-width="0.8"/>
<line x1="360.39" y1="570.4" x2="360.39" y2="573.4" stroke="#111" stroke-width="0.8"/>
<text x="360.39" y="582.3" font-family="'Liberation Sans', Arial, sans-serif" font-size="8" fill="#111" text-anchor="middle" stroke="#111" stroke-width="0.22" >50</text>
<line x1="373.88" y1="570.4" x2="373.88" y2="572" stroke="#111" stroke-width="0.8"/>
<line x1="387.37" y1="570.4" x2="387.37" y2="573.4" stroke="#111" stroke-width="0.8"/>
<text x="387.37" y="582.3" font-family="'Liberation Sans', Arial, sans-serif" font-size="8" fill="#111" text-anchor="middle" stroke="#111" stroke-width="0.22" >100</text>
<line x1="400.86" y1="570.4" x2="400.86" y2="572" stroke="#111" stroke-width="0.8"/>
<line x1="414.36" y1="570.4" x2="414.36" y2="573.4" stroke="#111" stroke-width="0.8"/>
<text x="414.36" y="582.3" font-family="'Liberation Sans', Arial, sans-serif" font-size="8" fill="#111" text-anchor="middle" stroke="#111" stroke-width="0.22" >150</text>
<line x1="427.85" y1="570.4" x2="427.85" y2="572" stroke="#111" stroke-width="0.8"/>
<line x1="441.34" y1="570.4" x2="441.34" y2="573.4" stroke="#111" stroke-width="0.8"/>
<text x="441.34" y="582.3" font-family="'Liberation Sans', Arial, sans-serif" font-size="8" fill="#111" text-anchor="middle" stroke="#111" stroke-width="0.22" >200</text>
<line x1="454.84" y1="570.4" x2="454.84" y2="572" stroke="#111" stroke-width="0.8"/>
<line x1="468.33" y1="570.4" x2="468.33" y2="573.4" stroke="#111" stroke-width="0.8"/>
<text x="468.33" y="582.3" font-family="'Liberation Sans', Arial, sans-serif" font-size="8" fill="#111" text-anchor="middle" stroke="#111" stroke-width="0.22" >250</text>
<line x1="481.82" y1="570.4" x2="481.82" y2="572" stroke="#111" stroke-width="0.8"/>
<line x1="495.31" y1="570.4" x2="495.31" y2="573.4" stroke="#111" stroke-width="0.8"/>
<text x="495.31" y="582.3" font-family="'Liberation Sans', Arial, sans-serif" font-size="8" fill="#111" text-anchor="middle" stroke="#111" stroke-width="0.22" >300</text>
<line x1="508.81" y1="570.4" x2="508.81" y2="572" stroke="#111" stroke-width="0.8"/>
<line x1="522.3" y1="570.4" x2="522.3" y2="573.4" stroke="#111" stroke-width="0.8"/>
<text x="522.3" y="582.3" font-family="'Liberation Sans', Arial, sans-serif" font-size="8" fill="#111" text-anchor="middle" stroke="#111" stroke-width="0.22" >350</text>
<text x="436" y="590.8" font-family="'Liberation Sans', Arial, sans-serif" font-size="9.6" fill="#222" text-anchor="middle" stroke="#222" stroke-width="0.22" >Displacement/mm</text>
<text x="0" y="0" font-family="'Liberation Sans', Arial, sans-serif" font-size="9" fill="#222" text-anchor="middle" stroke="#222" stroke-width="0.22" transform="translate(317.6,494.4) rotate(-90)">&#951;</text>
<text x="0" y="0" font-family="'Liberation Sans', Arial, sans-serif" font-size="9" fill="#222" text-anchor="middle" stroke="#222" stroke-width="0.22" transform="translate(538.5,494.4) rotate(-90)">&#955;</text>
<line x1="333.4" y1="494.4" x2="348.51" y2="494.4" stroke="#222" stroke-width="0.8" stroke-dasharray="2.2,1.8"/>
<line x1="348.51" y1="494.4" x2="348.51" y2="570.4" stroke="#222" stroke-width="0.8" stroke-dasharray="2.2,1.8"/>
<text x="354.8" y="497" font-family="'Liberation Sans', Arial, sans-serif" font-size="7" fill="#222" text-anchor="start" stroke="#222" stroke-width="0.22" >28mm</text>
<polyline points="333.4,418.4 334.48,432.84 336.48,434.21 338.26,437.55 339.88,448.8 342.04,472.36 343.87,475.55 345.81,478.14 347.97,486.8 350.51,497.74 356.07,515.68 363.08,527.99 375.88,540.15 387.37,546.84 396.28,550.94 412.74,554.14 428.39,555.5 459.05,558.54 475.13,560.22 488.62,561.58 510.97,563.26 520.52,565.23" fill="none" stroke="#111" stroke-width="1.3" stroke-linejoin="round" />
<rect x="332.78" y="431.14" width="3.4" height="3.4" fill="#111"/>
<rect x="334.78" y="432.51" width="3.4" height="3.4" fill="#111"/>
<rect x="336.56" y="435.85" width="3.4" height="3.4" fill="#111"/>
<rect x="340.34" y="470.66" width="3.4" height="3.4" fill="#111"/>
<rect x="342.17" y="473.85" width="3.4" height="3.4" fill="#111"/>
<rect x="344.11" y="476.44" width="3.4" height="3.4" fill="#111"/>
<rect x="348.81" y="496.04" width="3.4" height="3.4" fill="#111"/>
<rect x="361.38" y="526.29" width="3.4" height="3.4" fill="#111"/>
<rect x="374.18" y="538.45" width="3.4" height="3.4" fill="#111"/>
<rect x="394.58" y="549.24" width="3.4" height="3.4" fill="#111"/>
<rect x="411.04" y="552.44" width="3.4" height="3.4" fill="#111"/>
<rect x="426.69" y="553.8" width="3.4" height="3.4" fill="#111"/>
<rect x="457.35" y="556.84" width="3.4" height="3.4" fill="#111"/>
<rect x="473.43" y="558.52" width="3.4" height="3.4" fill="#111"/>
<rect x="486.92" y="559.88" width="3.4" height="3.4" fill="#111"/>
<rect x="509.27" y="561.56" width="3.4" height="3.4" fill="#111"/>
<rect x="518.82" y="563.53" width="3.4" height="3.4" fill="#111"/>
<polyline points="333.4,556.72 335.02,555.5 337.02,554.14 339.01,550.94 342.04,516.44 343.87,514.46 345.81,510.21 350.99,491.36 356.07,474.64 363.19,460.35 375.66,448.8 387.37,441.96 396.76,437.55 412.74,435.12 428.39,433.14 458.34,430.1 474.81,428.43 488.62,427.06 510.43,425.7 520.46,424.18" fill="none" stroke="#ff1010" stroke-width="1.3" stroke-linejoin="round" />
<circle cx="335.02" cy="555.5" r="2" fill="#ff1010"/>
<circle cx="337.02" cy="554.14" r="2" fill="#ff1010"/>
<circle cx="339.01" cy="550.94" r="2" fill="#ff1010"/>
<circle cx="342.04" cy="516.44" r="2" fill="#ff1010"/>
<circle cx="343.87" cy="514.46" r="2" fill="#ff1010"/>
<circle cx="345.81" cy="510.21" r="2" fill="#ff1010"/>
<circle cx="350.99" cy="491.36" r="2" fill="#ff1010"/>
<circle cx="363.19" cy="460.35" r="2" fill="#ff1010"/>
<circle cx="375.66" cy="448.8" r="2" fill="#ff1010"/>
<circle cx="396.76" cy="437.55" r="2" fill="#ff1010"/>
<circle cx="412.74" cy="435.12" r="2" fill="#ff1010"/>
<circle cx="428.39" cy="433.14" r="2" fill="#ff1010"/>
<circle cx="458.34" cy="430.1" r="2" fill="#ff1010"/>
<circle cx="474.81" cy="428.43" r="2" fill="#ff1010"/>
<circle cx="488.62" cy="427.06" r="2" fill="#ff1010"/>
<circle cx="510.43" cy="425.7" r="2" fill="#ff1010"/>
<circle cx="520.46" cy="424.18" r="2" fill="#ff1010"/>
<polyline points="333.4,418.4 334.48,419.92 335.72,421.44 337.72,427.52 339.5,430.56 342.79,462.48 348.4,490.9 356.07,515.68 366.75,530.58 378.47,539.39 394.77,549.12 412.74,552.77 431.63,557.18 442.42,556.87 455.38,558.54 471.57,558.54 491.54,561.43 502.33,561.43 514.64,561.43 520.52,563.86" fill="none" stroke="#1010ff" stroke-width="1.3" stroke-linejoin="round" />
<polygon points="334.48,417.76 332.5,421.36 336.46,421.36" fill="#1010ff"/>
<polygon points="335.72,419.28 333.74,422.88 337.7,422.88" fill="#1010ff"/>
<polygon points="337.72,425.36 335.74,428.96 339.7,428.96" fill="#1010ff"/>
<polygon points="339.5,428.4 337.52,432 341.48,432" fill="#1010ff"/>
<polygon points="342.79,460.32 340.81,463.92 344.77,463.92" fill="#1010ff"/>
<polygon points="348.4,488.74 346.42,492.34 350.38,492.34" fill="#1010ff"/>
<polygon points="356.07,513.52 354.09,517.12 358.05,517.12" fill="#1010ff"/>
<polygon points="366.75,528.42 364.77,532.02 368.73,532.02" fill="#1010ff"/>
<polygon points="378.47,537.23 376.49,540.83 380.45,540.83" fill="#1010ff"/>
<polygon points="394.77,546.96 392.79,550.56 396.75,550.56" fill="#1010ff"/>
<polygon points="412.74,550.61 410.76,554.21 414.72,554.21" fill="#1010ff"/>
<polygon points="431.63,555.02 429.65,558.62 433.61,558.62" fill="#1010ff"/>
<polygon points="442.42,554.71 440.44,558.31 444.4,558.31" fill="#1010ff"/>
<polygon points="455.38,556.38 453.4,559.98 457.36,559.98" fill="#1010ff"/>
<polygon points="471.57,556.38 469.59,559.98 473.55,559.98" fill="#1010ff"/>
<polygon points="491.54,559.27 489.56,562.87 493.52,562.87" fill="#1010ff"/>
<polygon points="502.33,559.27 500.35,562.87 504.31,562.87" fill="#1010ff"/>
<polygon points="514.64,559.27 512.66,562.87 516.62,562.87" fill="#1010ff"/>
<polygon points="520.52,561.7 518.54,565.3 522.5,565.3" fill="#1010ff"/>
<polyline points="333.4,570.4 334.48,569.18 335.72,566.75 337.72,561.13 339.88,544.56 342.58,525.41 345.27,511.12 348.4,497.74 355.53,472.36 366.75,458.38 376.58,448.8 394.17,439.38 412.74,436.64 431.63,432.38 442.42,431.78 455.38,430.1 471.57,430.86 491.54,427.06 502.33,427.06 514.64,427.67 520.46,425.39" fill="none" stroke="#ff10ff" stroke-width="1.3" stroke-linejoin="round" />
<polygon points="334.48,571.34 332.5,567.74 336.46,567.74" fill="#ff10ff"/>
<polygon points="335.72,568.91 333.74,565.31 337.7,565.31" fill="#ff10ff"/>
<polygon points="337.72,563.29 335.74,559.69 339.7,559.69" fill="#ff10ff"/>
<polygon points="342.58,527.57 340.6,523.97 344.56,523.97" fill="#ff10ff"/>
<polygon points="348.4,499.9 346.42,496.3 350.38,496.3" fill="#ff10ff"/>
<polygon points="355.53,474.52 353.55,470.92 357.51,470.92" fill="#ff10ff"/>
<polygon points="366.75,460.54 364.77,456.94 368.73,456.94" fill="#ff10ff"/>
<polygon points="376.58,450.96 374.6,447.36 378.56,447.36" fill="#ff10ff"/>
<polygon points="394.17,441.54 392.19,437.94 396.15,437.94" fill="#ff10ff"/>
<polygon points="412.74,438.8 410.76,435.2 414.72,435.2" fill="#ff10ff"/>
<polygon points="431.63,434.54 429.65,430.94 433.61,430.94" fill="#ff10ff"/>
<polygon points="442.42,433.94 440.44,430.34 444.4,430.34" fill="#ff10ff"/>
<polygon points="455.38,432.26 453.4,428.66 457.36,428.66" fill="#ff10ff"/>
<polygon points="471.57,433.02 469.59,429.42 473.55,429.42" fill="#ff10ff"/>
<polygon points="491.54,429.22 489.56,425.62 493.52,425.62" fill="#ff10ff"/>
<polygon points="502.33,429.22 500.35,425.62 504.31,425.62" fill="#ff10ff"/>
<polygon points="514.64,429.83 512.66,426.23 516.62,426.23" fill="#ff10ff"/>
<polygon points="520.46,427.55 518.48,423.95 522.44,423.95" fill="#ff10ff"/>
<rect x="450.2" y="495.3" width="54" height="39.8" fill="#fff" stroke="#aaa" stroke-width="0.7"/>
<line x1="452" y1="501.1" x2="470" y2="501.1" stroke="#111" stroke-width="1.1"/>
<rect x="459" y="499.1" width="4" height="4" fill="#111"/>
<text x="471.6" y="503.7" font-family="'Liberation Sans', Arial, sans-serif" font-size="7.3" fill="#222" text-anchor="start" stroke="#222" stroke-width="0.22" >FEM-2-&#951;</text>
<line x1="452" y1="511.2" x2="470" y2="511.2" stroke="#ff1010" stroke-width="1.1"/>
<circle cx="461" cy="511.2" r="2" fill="#ff1010"/>
<text x="471.6" y="513.8" font-family="'Liberation Sans', Arial, sans-serif" font-size="7.3" fill="#222" text-anchor="start" stroke="#222" stroke-width="0.22" >FEM-2-&#955;</text>
<line x1="452" y1="521.3" x2="470" y2="521.3" stroke="#1010ff" stroke-width="1.1"/>
<polygon points="461,518.9 458.8,522.9 463.2,522.9" fill="#1010ff"/>
<text x="471.6" y="523.9" font-family="'Liberation Sans', Arial, sans-serif" font-size="7.3" fill="#222" text-anchor="start" stroke="#222" stroke-width="0.22" >FEM-4-&#951;</text>
<line x1="452" y1="531.4" x2="470" y2="531.4" stroke="#ff10ff" stroke-width="1.1"/>
<polygon points="461,533.8 458.8,529.8 463.2,529.8" fill="#ff10ff"/>
<text x="471.6" y="534" font-family="'Liberation Sans', Arial, sans-serif" font-size="7.3" fill="#222" text-anchor="start" stroke="#222" stroke-width="0.22" >FEM-4-&#955;</text>
<text x="428.4" y="607.4" font-family="'Liberation Serif', 'Times New Roman', serif" font-size="11.5" fill="#111" text-anchor="middle" font-weight="bold">(d)</text>
<line x1="41.3" y1="633.6" x2="41.3" y2="786.7" stroke="#111" stroke-width="0.9"/>
<line x1="40.9" y1="633.6" x2="231.5" y2="633.6" stroke="#111" stroke-width="0.9"/>
<line x1="38.3" y1="633.6" x2="41.3" y2="633.6" stroke="#111" stroke-width="0.8"/>
<text x="37" y="636.3" font-family="'Liberation Sans', Arial, sans-serif" font-size="8" fill="#111" text-anchor="end" stroke="#111" stroke-width="0.22" >0</text>
<line x1="39.7" y1="644.5" x2="41.3" y2="644.5" stroke="#111" stroke-width="0.8"/>
<line x1="38.3" y1="655.4" x2="41.3" y2="655.4" stroke="#111" stroke-width="0.8"/>
<text x="37" y="658.1" font-family="'Liberation Sans', Arial, sans-serif" font-size="8" fill="#111" text-anchor="end" stroke="#111" stroke-width="0.22" >-50</text>
<line x1="39.7" y1="666.3" x2="41.3" y2="666.3" stroke="#111" stroke-width="0.8"/>
<line x1="38.3" y1="677.2" x2="41.3" y2="677.2" stroke="#111" stroke-width="0.8"/>
<text x="37" y="679.9" font-family="'Liberation Sans', Arial, sans-serif" font-size="8" fill="#111" text-anchor="end" stroke="#111" stroke-width="0.22" >-100</text>
<line x1="39.7" y1="688.1" x2="41.3" y2="688.1" stroke="#111" stroke-width="0.8"/>
<line x1="38.3" y1="699" x2="41.3" y2="699" stroke="#111" stroke-width="0.8"/>
<text x="37" y="701.7" font-family="'Liberation Sans', Arial, sans-serif" font-size="8" fill="#111" text-anchor="end" stroke="#111" stroke-width="0.22" >-150</text>
<line x1="39.7" y1="709.9" x2="41.3" y2="709.9" stroke="#111" stroke-width="0.8"/>
<line x1="38.3" y1="720.8" x2="41.3" y2="720.8" stroke="#111" stroke-width="0.8"/>
<text x="37" y="723.5" font-family="'Liberation Sans', Arial, sans-serif" font-size="8" fill="#111" text-anchor="end" stroke="#111" stroke-width="0.22" >-200</text>
<line x1="39.7" y1="731.7" x2="41.3" y2="731.7" stroke="#111" stroke-width="0.8"/>
<line x1="38.3" y1="742.6" x2="41.3" y2="742.6" stroke="#111" stroke-width="0.8"/>
<text x="37" y="745.3" font-family="'Liberation Sans', Arial, sans-serif" font-size="8" fill="#111" text-anchor="end" stroke="#111" stroke-width="0.22" >-250</text>
<line x1="39.7" y1="753.5" x2="41.3" y2="753.5" stroke="#111" stroke-width="0.8"/>
<line x1="38.3" y1="764.4" x2="41.3" y2="764.4" stroke="#111" stroke-width="0.8"/>
<text x="37" y="767.1" font-family="'Liberation Sans', Arial, sans-serif" font-size="8" fill="#111" text-anchor="end" stroke="#111" stroke-width="0.22" >-300</text>
<line x1="39.7" y1="775.3" x2="41.3" y2="775.3" stroke="#111" stroke-width="0.8"/>
<line x1="38.3" y1="786.2" x2="41.3" y2="786.2" stroke="#111" stroke-width="0.8"/>
<text x="37" y="788.9" font-family="'Liberation Sans', Arial, sans-serif" font-size="8" fill="#111" text-anchor="end" stroke="#111" stroke-width="0.22" >-350</text>
<line x1="41.3" y1="630.6" x2="41.3" y2="633.6" stroke="#111" stroke-width="0.8"/>
<text x="41.9" y="629.3" font-family="'Liberation Sans', Arial, sans-serif" font-size="8" fill="#111" text-anchor="middle" stroke="#111" stroke-width="0.22" >-2850</text>
<line x1="88.85" y1="631.6" x2="88.85" y2="633.6" stroke="#111" stroke-width="0.8"/>
<line x1="136.4" y1="630.6" x2="136.4" y2="633.6" stroke="#111" stroke-width="0.8"/>
<text x="136.4" y="629.3" font-family="'Liberation Sans', Arial, sans-serif" font-size="8" fill="#111" text-anchor="middle" stroke="#111" stroke-width="0.22" >0</text>
<line x1="183.95" y1="631.6" x2="183.95" y2="633.6" stroke="#111" stroke-width="0.8"/>
<line x1="231.5" y1="630.6" x2="231.5" y2="633.6" stroke="#111" stroke-width="0.8"/>
<text x="231.5" y="629.3" font-family="'Liberation Sans', Arial, sans-serif" font-size="8" fill="#111" text-anchor="middle" stroke="#111" stroke-width="0.22" >2850</text>
<text x="136.6" y="618.2" font-family="'Liberation Sans', Arial, sans-serif" font-size="9.5" fill="#222" text-anchor="middle" stroke="#222" stroke-width="0.22" >Distance From Central Column / mm</text>
<text x="0" y="0" font-family="'Liberation Sans', Arial, sans-serif" font-size="9.3" fill="#222" text-anchor="middle" stroke="#222" stroke-width="0.22" transform="translate(16.8,710) rotate(-90)">Displacement / mm</text>
<polyline points="41.3,633.6 136.4,633.6 231.5,633.6" fill="none" stroke="#111" stroke-width="1.25" stroke-linejoin="round" />
<rect x="134.7" y="631.9" width="3.4" height="3.4" fill="#111"/>
<polyline points="41.3,633.6 136.4,633.86 231.5,633.6" fill="none" stroke="#ff0a0a" stroke-width="1.25" stroke-linejoin="round" />
<circle cx="136.4" cy="633.86" r="1.7" fill="#ff0a0a"/>
<polyline points="41.3,633.6 136.4,634.47 231.5,633.6" fill="none" stroke="#0a0aff" stroke-width="1.25" stroke-linejoin="round" />
<polygon points="136.4,632.43 134.53,635.83 138.27,635.83" fill="#0a0aff"/>
<polyline points="41.3,633.6 136.4,635.34 231.5,633.6" fill="none" stroke="#ff0aff" stroke-width="1.25" stroke-linejoin="round" />
<polygon points="136.4,637.38 134.53,633.98 138.27,633.98" fill="#ff0aff"/>
<polyline points="41.3,633.6 136.4,638.22 231.5,633.6" fill="none" stroke="#0a8a0a" stroke-width="1.25" stroke-linejoin="round" />
<polygon points="136.4,636.18 138.44,638.22 136.4,640.26 134.36,638.22" fill="#0a8a0a"/>
<polyline points="41.3,633.6 136.4,640.84 231.5,633.6" fill="none" stroke="#0a0a8a" stroke-width="1.25" stroke-linejoin="round" />
<polygon points="134.36,640.84 137.76,638.97 137.76,642.71" fill="#0a0a8a"/>
<polyline points="41.3,633.6 136.4,643.63 231.5,633.6" fill="none" stroke="#8a1aff" stroke-width="1.25" stroke-linejoin="round" />
<polygon points="138.44,643.63 135.04,641.76 135.04,645.5" fill="#8a1aff"/>
<polyline points="41.3,633.6 136.4,684 231.5,633.6" fill="none" stroke="#8a0a8a" stroke-width="1.25" stroke-linejoin="round" />
<circle cx="136.4" cy="684" r="1.87" fill="#8a0a8a"/>
<polyline points="41.3,633.6 136.4,722.28 231.5,633.6" fill="none" stroke="#9a0a0a" stroke-width="1.25" stroke-linejoin="round" />
<circle cx="136.4" cy="722.28" r="1.36" fill="#9a0a0a"/>
<rect x="186" y="693.4" width="45.8" height="89.6" fill="#fff" stroke="#aaa" stroke-width="0.7"/>
<line x1="186.7" y1="698.9" x2="204.9" y2="698.9" stroke="#111" stroke-width="1.1"/>
<rect x="194" y="697" width="3.8" height="3.8" fill="#111"/>
<text x="207.2" y="701.6" font-family="'Liberation Sans', Arial, sans-serif" font-size="7.6" fill="#222" text-anchor="start" stroke="#222" stroke-width="0.22" >0&#160;&#160;&#160;&#160;kN</text>
<line x1="186.7" y1="708.72" x2="204.9" y2="708.72" stroke="#ff0a0a" stroke-width="1.1"/>
<circle cx="195.9" cy="708.72" r="1.9" fill="#ff0a0a"/>
<text x="207.2" y="711.42" font-family="'Liberation Sans', Arial, sans-serif" font-size="7.6" fill="#222" text-anchor="start" stroke="#222" stroke-width="0.22" >50&#160;&#160;kN</text>
<line x1="186.7" y1="718.54" x2="204.9" y2="718.54" stroke="#0a0aff" stroke-width="1.1"/>
<polygon points="195.9,716.26 193.81,720.06 197.99,720.06" fill="#0a0aff"/>
<text x="207.2" y="721.24" font-family="'Liberation Sans', Arial, sans-serif" font-size="7.6" fill="#222" text-anchor="start" stroke="#222" stroke-width="0.22" >100kN</text>
<line x1="186.7" y1="728.36" x2="204.9" y2="728.36" stroke="#ff0aff" stroke-width="1.1"/>
<polygon points="195.9,730.64 193.81,726.84 197.99,726.84" fill="#ff0aff"/>
<text x="207.2" y="731.06" font-family="'Liberation Sans', Arial, sans-serif" font-size="7.6" fill="#222" text-anchor="start" stroke="#222" stroke-width="0.22" >150kN</text>
<line x1="186.7" y1="738.18" x2="204.9" y2="738.18" stroke="#0a8a0a" stroke-width="1.1"/>
<polygon points="195.9,735.9 198.18,738.18 195.9,740.46 193.62,738.18" fill="#0a8a0a"/>
<text x="207.2" y="740.88" font-family="'Liberation Sans', Arial, sans-serif" font-size="7.6" fill="#222" text-anchor="start" stroke="#222" stroke-width="0.22" >200kN</text>
<line x1="186.7" y1="748" x2="204.9" y2="748" stroke="#0a0a8a" stroke-width="1.1"/>
<polygon points="193.62,748 197.42,745.91 197.42,750.09" fill="#0a0a8a"/>
<text x="207.2" y="750.7" font-family="'Liberation Sans', Arial, sans-serif" font-size="7.6" fill="#222" text-anchor="start" stroke="#222" stroke-width="0.22" >250kN</text>
<line x1="186.7" y1="757.82" x2="204.9" y2="757.82" stroke="#8a1aff" stroke-width="1.1"/>
<polygon points="198.18,757.82 194.38,755.73 194.38,759.91" fill="#8a1aff"/>
<text x="207.2" y="760.52" font-family="'Liberation Sans', Arial, sans-serif" font-size="7.6" fill="#222" text-anchor="start" stroke="#222" stroke-width="0.22" >300kN</text>
<line x1="186.7" y1="767.64" x2="204.9" y2="767.64" stroke="#8a0a8a" stroke-width="1.1"/>
<circle cx="195.9" cy="767.64" r="2.09" fill="#8a0a8a"/>
<text x="207.2" y="770.34" font-family="'Liberation Sans', Arial, sans-serif" font-size="7.6" fill="#222" text-anchor="start" stroke="#222" stroke-width="0.22" >350kN</text>
<line x1="186.7" y1="777.46" x2="204.9" y2="777.46" stroke="#9a0a0a" stroke-width="1.1"/>
<circle cx="195.9" cy="777.46" r="1.52" fill="#9a0a0a"/>
<text x="207.2" y="780.16" font-family="'Liberation Sans', Arial, sans-serif" font-size="7.6" fill="#222" text-anchor="start" stroke="#222" stroke-width="0.22" >400kN</text>
<text x="125.2" y="803.5" font-family="'Liberation Serif', 'Times New Roman', serif" font-size="11.8" fill="#111" text-anchor="middle" font-weight="bold">(e)</text>
<line x1="342.4" y1="633.6" x2="342.4" y2="786.7" stroke="#111" stroke-width="0.9"/>
<line x1="342.0" y1="633.6" x2="535.6" y2="633.6" stroke="#111" stroke-width="0.9"/>
<line x1="339.4" y1="633.6" x2="342.4" y2="633.6" stroke="#111" stroke-width="0.8"/>
<text x="338.1" y="636.3" font-family="'Liberation Sans', Arial, sans-serif" font-size="8" fill="#111" text-anchor="end" stroke="#111" stroke-width="0.22" >0</text>
<line x1="340.8" y1="644.5" x2="342.4" y2="644.5" stroke="#111" stroke-width="0.8"/>
<line x1="339.4" y1="655.4" x2="342.4" y2="655.4" stroke="#111" stroke-width="0.8"/>
<text x="338.1" y="658.1" font-family="'Liberation Sans', Arial, sans-serif" font-size="8" fill="#111" text-anchor="end" stroke="#111" stroke-width="0.22" >-50</text>
<line x1="340.8" y1="666.3" x2="342.4" y2="666.3" stroke="#111" stroke-width="0.8"/>
<line x1="339.4" y1="677.2" x2="342.4" y2="677.2" stroke="#111" stroke-width="0.8"/>
<text x="338.1" y="679.9" font-family="'Liberation Sans', Arial, sans-serif" font-size="8" fill="#111" text-anchor="end" stroke="#111" stroke-width="0.22" >-100</text>
<line x1="340.8" y1="688.1" x2="342.4" y2="688.1" stroke="#111" stroke-width="0.8"/>
<line x1="339.4" y1="699" x2="342.4" y2="699" stroke="#111" stroke-width="0.8"/>
<text x="338.1" y="701.7" font-family="'Liberation Sans', Arial, sans-serif" font-size="8" fill="#111" text-anchor="end" stroke="#111" stroke-width="0.22" >-150</text>
<line x1="340.8" y1="709.9" x2="342.4" y2="709.9" stroke="#111" stroke-width="0.8"/>
<line x1="339.4" y1="720.8" x2="342.4" y2="720.8" stroke="#111" stroke-width="0.8"/>
<text x="338.1" y="723.5" font-family="'Liberation Sans', Arial, sans-serif" font-size="8" fill="#111" text-anchor="end" stroke="#111" stroke-width="0.22" >-200</text>
<line x1="340.8" y1="731.7" x2="342.4" y2="731.7" stroke="#111" stroke-width="0.8"/>
<line x1="339.4" y1="742.6" x2="342.4" y2="742.6" stroke="#111" stroke-width="0.8"/>
<text x="338.1" y="745.3" font-family="'Liberation Sans', Arial, sans-serif" font-size="8" fill="#111" text-anchor="end" stroke="#111" stroke-width="0.22" >-250</text>
<line x1="340.8" y1="753.5" x2="342.4" y2="753.5" stroke="#111" stroke-width="0.8"/>
<line x1="339.4" y1="764.4" x2="342.4" y2="764.4" stroke="#111" stroke-width="0.8"/>
<text x="338.1" y="767.1" font-family="'Liberation Sans', Arial, sans-serif" font-size="8" fill="#111" text-anchor="end" stroke="#111" stroke-width="0.22" >-300</text>
<line x1="340.8" y1="775.3" x2="342.4" y2="775.3" stroke="#111" stroke-width="0.8"/>
<line x1="339.4" y1="786.2" x2="342.4" y2="786.2" stroke="#111" stroke-width="0.8"/>
<text x="338.1" y="788.9" font-family="'Liberation Sans', Arial, sans-serif" font-size="8" fill="#111" text-anchor="end" stroke="#111" stroke-width="0.22" >-350</text>
<line x1="342.4" y1="630.6" x2="342.4" y2="633.6" stroke="#111" stroke-width="0.8"/>
<text x="343" y="629.3" font-family="'Liberation Sans', Arial, sans-serif" font-size="8" fill="#111" text-anchor="middle" stroke="#111" stroke-width="0.22" >-2850</text>
<line x1="390.7" y1="631.6" x2="390.7" y2="633.6" stroke="#111" stroke-width="0.8"/>
<line x1="439" y1="630.6" x2="439" y2="633.6" stroke="#111" stroke-width="0.8"/>
<text x="439" y="629.3" font-family="'Liberation Sans', Arial, sans-serif" font-size="8" fill="#111" text-anchor="middle" stroke="#111" stroke-width="0.22" >0</text>
<line x1="487.3" y1="631.6" x2="487.3" y2="633.6" stroke="#111" stroke-width="0.8"/>
<line x1="535.6" y1="630.6" x2="535.6" y2="633.6" stroke="#111" stroke-width="0.8"/>
<text x="535.6" y="629.3" font-family="'Liberation Sans', Arial, sans-serif" font-size="8" fill="#111" text-anchor="middle" stroke="#111" stroke-width="0.22" >2850</text>
<text x="439.4" y="618.2" font-family="'Liberation Sans', Arial, sans-serif" font-size="9.5" fill="#222" text-anchor="middle" stroke="#222" stroke-width="0.22" >Distance From Central Column / mm</text>
<text x="0" y="0" font-family="'Liberation Sans', Arial, sans-serif" font-size="9.3" fill="#222" text-anchor="middle" stroke="#222" stroke-width="0.22" transform="translate(316,710) rotate(-90)">Displacement / mm</text>
<polyline points="342.4,633.6 439,633.6 535.6,633.6" fill="none" stroke="#111" stroke-width="1.25" stroke-linejoin="round" />
<rect x="437.3" y="631.9" width="3.4" height="3.4" fill="#111"/>
<polyline points="342.4,633.6 439,633.86 535.6,633.6" fill="none" stroke="#ff0a0a" stroke-width="1.25" stroke-linejoin="round" />
<circle cx="439" cy="633.86" r="1.7" fill="#ff0a0a"/>
<polyline points="342.4,633.6 439,634.78 535.6,633.6" fill="none" stroke="#0a0aff" stroke-width="1.25" stroke-linejoin="round" />
<polygon points="439,632.74 437.13,636.14 440.87,636.14" fill="#0a0aff"/>
<polyline points="342.4,633.6 439,636.48 535.6,633.6" fill="none" stroke="#ff0aff" stroke-width="1.25" stroke-linejoin="round" />
<polygon points="439,638.52 437.13,635.12 440.87,635.12" fill="#ff0aff"/>
<polyline points="342.4,633.6 439,640.92 535.6,633.6" fill="none" stroke="#0a8a0a" stroke-width="1.25" stroke-linejoin="round" />
<polygon points="439,638.88 441.04,640.92 439,642.96 436.96,640.92" fill="#0a8a0a"/>
<polyline points="342.4,633.6 439,647.42 535.6,633.6" fill="none" stroke="#0a0a8a" stroke-width="1.25" stroke-linejoin="round" />
<polygon points="436.96,647.42 440.36,645.55 440.36,649.29" fill="#0a0a8a"/>
<polyline points="342.4,633.6 439,718.45 535.6,633.6" fill="none" stroke="#8a1aff" stroke-width="1.25" stroke-linejoin="round" />
<polygon points="441.04,718.45 437.64,716.58 437.64,720.32" fill="#8a1aff"/>
<polyline points="342.4,633.6 439,779.01 535.6,633.6" fill="none" stroke="#8a0a8a" stroke-width="1.25" stroke-linejoin="round" />
<circle cx="439" cy="779.01" r="1.87" fill="#8a0a8a"/>
<rect x="490.4" y="704.8" width="46.5" height="80.5" fill="#fff" stroke="#aaa" stroke-width="0.7"/>
<line x1="491.8" y1="710.8" x2="509.6" y2="710.8" stroke="#111" stroke-width="1.1"/>
<rect x="498.6" y="708.9" width="3.8" height="3.8" fill="#111"/>
<text x="512.2" y="713.5" font-family="'Liberation Sans', Arial, sans-serif" font-size="7.6" fill="#222" text-anchor="start" stroke="#222" stroke-width="0.22" >0&#160;&#160;&#160;&#160;kN</text>
<line x1="491.8" y1="720.62" x2="509.6" y2="720.62" stroke="#ff0a0a" stroke-width="1.1"/>
<circle cx="500.5" cy="720.62" r="1.9" fill="#ff0a0a"/>
<text x="512.2" y="723.32" font-family="'Liberation Sans', Arial, sans-serif" font-size="7.6" fill="#222" text-anchor="start" stroke="#222" stroke-width="0.22" >50&#160;&#160;kN</text>
<line x1="491.8" y1="730.44" x2="509.6" y2="730.44" stroke="#0a0aff" stroke-width="1.1"/>
<polygon points="500.5,728.16 498.41,731.96 502.59,731.96" fill="#0a0aff"/>
<text x="512.2" y="733.14" font-family="'Liberation Sans', Arial, sans-serif" font-size="7.6" fill="#222" text-anchor="start" stroke="#222" stroke-width="0.22" >100kN</text>
<line x1="491.8" y1="740.26" x2="509.6" y2="740.26" stroke="#ff0aff" stroke-width="1.1"/>
<polygon points="500.5,742.54 498.41,738.74 502.59,738.74" fill="#ff0aff"/>
<text x="512.2" y="742.96" font-family="'Liberation Sans', Arial, sans-serif" font-size="7.6" fill="#222" text-anchor="start" stroke="#222" stroke-width="0.22" >150kN</text>
<line x1="491.8" y1="750.08" x2="509.6" y2="750.08" stroke="#0a8a0a" stroke-width="1.1"/>
<polygon points="500.5,747.8 502.78,750.08 500.5,752.36 498.22,750.08" fill="#0a8a0a"/>
<text x="512.2" y="752.78" font-family="'Liberation Sans', Arial, sans-serif" font-size="7.6" fill="#222" text-anchor="start" stroke="#222" stroke-width="0.22" >200kN</text>
<line x1="491.8" y1="759.9" x2="509.6" y2="759.9" stroke="#0a0a8a" stroke-width="1.1"/>
<polygon points="498.22,759.9 502.02,757.81 502.02,761.99" fill="#0a0a8a"/>
<text x="512.2" y="762.6" font-family="'Liberation Sans', Arial, sans-serif" font-size="7.6" fill="#222" text-anchor="start" stroke="#222" stroke-width="0.22" >250kN</text>
<line x1="491.8" y1="769.72" x2="509.6" y2="769.72" stroke="#8a1aff" stroke-width="1.1"/>
<polygon points="502.78,769.72 498.98,767.63 498.98,771.81" fill="#8a1aff"/>
<text x="512.2" y="772.42" font-family="'Liberation Sans', Arial, sans-serif" font-size="7.6" fill="#222" text-anchor="start" stroke="#222" stroke-width="0.22" >300kN</text>
<line x1="491.8" y1="779.54" x2="509.6" y2="779.54" stroke="#8a0a8a" stroke-width="1.1"/>
<circle cx="500.5" cy="779.54" r="2.09" fill="#8a0a8a"/>
<text x="512.2" y="782.24" font-family="'Liberation Sans', Arial, sans-serif" font-size="7.6" fill="#222" text-anchor="start" stroke="#222" stroke-width="0.22" >350kN</text>
<text x="428" y="803.5" font-family="'Liberation Serif', 'Times New Roman', serif" font-size="11.8" fill="#111" text-anchor="middle" font-weight="bold">(f)</text>
</svg>
</body></html>
